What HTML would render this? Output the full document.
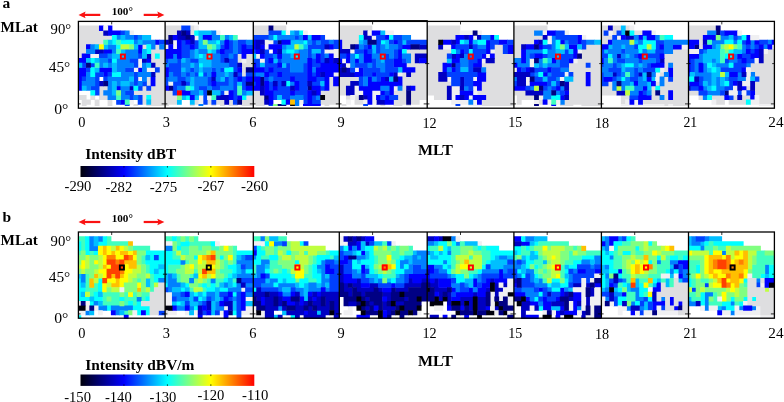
<!DOCTYPE html><html><head><meta charset="utf-8"><title>Figure</title>
<style>html,body{margin:0;padding:0;background:#fff}svg{display:block}text{font-family:"Liberation Serif","DejaVu Serif",serif;fill:#000}.b{font-weight:bold}</style></head><body>
<svg width="784" height="402" viewBox="0 0 784 402">
<defs><linearGradient id="jet" x1="0" x2="1" y1="0" y2="0"><stop offset="0" stop-color="#00000a"/><stop offset="0.25" stop-color="#0000ff"/><stop offset="0.5" stop-color="#00ffff"/><stop offset="0.75" stop-color="#ffff00"/><stop offset="1" stop-color="#ff0000"/></linearGradient><filter id="bl" x="-2%" y="-2%" width="104%" height="104%"><feGaussianBlur stdDeviation="0.65"/></filter></defs>
<rect width="784" height="402" fill="#fff"/>
<clipPath id="ca0"><rect x="78.40" y="21.60" width="86.70" height="84.30"/></clipPath>
<g clip-path="url(#ca0)"><g filter="url(#bl)"><g transform="translate(77.44,21.32) scale(4.305,4.6)">
<path fill="#dedee0" d="M0 .9h5.12v1.22h-5.12zM0 2h6.12v1.12h-6.12zM0 3h8.12v1.12h-8.12zM0 4h6.12v1.12h-6.12zM0 5h2.12v1.12h-2.12zM15 5h1.12v1.12h-1.12zM18 5h1.12v1.12h-1.12zM0 6h2.12v1.12h-2.12zM17 6h4.12v1.12h-4.12zM0 7h1.12v1.12h-1.12zM17 7h1.12v1.12h-1.12zM19 7h2.12v1.12h-2.12zM17 8h4.12v1.12h-4.12zM18 9h3.12v1.12h-3.12zM19 10h2.12v1.12h-2.12zM18 11h3.12v1.12h-3.12zM16 12h1.12v1.12h-1.12zM18 12h3.12v1.12h-3.12zM16 13h1.12v1.12h-1.12zM18 13h3.12v1.12h-3.12zM5 14h2.12v1.12h-2.12zM15 14h1.12v1.12h-1.12zM17 14h4.12v1.12h-4.12zM5 15h1.12v1.12h-1.12zM13 15h8.12v1.12h-8.12zM0 16h2.12v1.12h-2.12zM3 16h1.12v1.12h-1.12zM5 16h2.12v1.12h-2.12zM15 16h1.12v1.12h-1.12zM17 16h4.12v1.12h-4.12zM1 17h2.12v1.12h-2.12zM4 17h1.12v1.12h-1.12zM7 17h1.12v1.12h-1.12zM15 17h1.12v1.12h-1.12zM17 17h4.12v1.12h-4.12zM1 18h1.12v1.12h-1.12zM4 18h1.12v1.12h-1.12zM7 18h1.12v1.12h-1.12zM13 18h1.12v1.12h-1.12zM16 18h5.12v1.12h-5.12z"/>
<path fill="#0000ff" d="M5 .9h1.12v1.22h-1.12zM7 .9h1.12v1.22h-1.12zM7 2h3.12v1.12h-3.12zM18 4h1.12v1.12h-1.12zM2 5h1.12v1.12h-1.12zM14 5h1.12v1.12h-1.12zM6 6h2.12v1.12h-2.12zM14 6h1.12v1.12h-1.12zM1 7h2.12v1.12h-2.12zM0 8h2.12v1.12h-2.12zM16 8h1.12v1.12h-1.12zM0 10h2.12v1.12h-2.12zM5 10h3.12v1.12h-3.12zM14 10h1.12v1.12h-1.12zM0 11h2.12v1.12h-2.12zM6 11h1.12v1.12h-1.12zM0 12h1.12v1.12h-1.12zM17 12h1.12v1.12h-1.12zM0 13h1.12v1.12h-1.12zM17 13h1.12v1.12h-1.12zM0 14h1.12v1.12h-1.12zM9 14h1.12v1.12h-1.12zM10 17h1.12v1.12h-1.12z"/>
<path fill="#f0f0f2" d="M6 .9h1.12v1.22h-1.12zM12 2h1.12v1.12h-1.12zM3 7h2.12v1.12h-2.12zM14 8h1.12v1.12h-1.12zM14 9h1.12v1.12h-1.12zM13 10h1.12v1.12h-1.12zM16 10h2.12v1.12h-2.12zM14 12h1.12v1.12h-1.12zM12 17h1.12v1.12h-1.12z"/>
<path fill="#0000c2" d="M6 2h1.12v1.12h-1.12zM4 6h2.12v1.12h-2.12zM16 7h1.12v1.12h-1.12zM15 8h1.12v1.12h-1.12zM17 9h1.12v1.12h-1.12zM17 11h1.12v1.12h-1.12zM5 13h1.12v1.12h-1.12zM12 14h1.12v1.12h-1.12z"/>
<path fill="#0040ff" d="M10 2h1.12v1.12h-1.12zM13 3h1.12v1.12h-1.12zM19 4h2.12v1.12h-2.12zM5 7h2.12v1.12h-2.12zM14 7h1.12v1.12h-1.12zM7 8h1.12v1.12h-1.12zM12 8h2.12v1.12h-2.12zM1 9h1.12v1.12h-1.12zM3 9h1.12v1.12h-1.12zM13 9h1.12v1.12h-1.12zM2 10h1.12v1.12h-1.12zM11 10h2.12v1.12h-2.12zM18 10h1.12v1.12h-1.12zM4 11h2.12v1.12h-2.12zM7 11h1.12v1.12h-1.12zM13 11h1.12v1.12h-1.12zM1 12h1.12v1.12h-1.12zM4 12h1.12v1.12h-1.12zM6 12h1.12v1.12h-1.12zM13 12h1.12v1.12h-1.12zM4 13h1.12v1.12h-1.12zM13 13h1.12v1.12h-1.12zM15 13h1.12v1.12h-1.12zM3 14h2.12v1.12h-2.12zM14 14h1.12v1.12h-1.12zM16 14h1.12v1.12h-1.12zM4 15h1.12v1.12h-1.12zM11 15h2.12v1.12h-2.12zM12 16h1.12v1.12h-1.12zM14 16h1.12v1.12h-1.12zM9 17h1.12v1.12h-1.12zM14 17h1.12v1.12h-1.12zM11 18h1.12v1.12h-1.12z"/>
<path fill="#0080ff" d="M11 2h1.12v1.12h-1.12zM9 3h1.12v1.12h-1.12zM11 3h2.12v1.12h-2.12zM14 3h1.12v1.12h-1.12zM13 4h1.12v1.12h-1.12zM15 4h3.12v1.12h-3.12zM3 5h1.12v1.12h-1.12zM7 5h2.12v1.12h-2.12zM17 5h1.12v1.12h-1.12zM19 5h2.12v1.12h-2.12zM2 6h2.12v1.12h-2.12zM8 6h1.12v1.12h-1.12zM11 6h3.12v1.12h-3.12zM7 7h1.12v1.12h-1.12zM11 7h3.12v1.12h-3.12zM5 8h2.12v1.12h-2.12zM9 8h3.12v1.12h-3.12zM5 9h1.12v1.12h-1.12zM7 9h1.12v1.12h-1.12zM9 9h4.12v1.12h-4.12zM15 9h1.12v1.12h-1.12zM9 10h2.12v1.12h-2.12zM15 10h1.12v1.12h-1.12zM2 11h1.12v1.12h-1.12zM10 11h3.12v1.12h-3.12zM14 11h3.12v1.12h-3.12zM2 12h2.12v1.12h-2.12zM7 12h5.12v1.12h-5.12zM15 12h1.12v1.12h-1.12zM1 13h3.12v1.12h-3.12zM7 13h1.12v1.12h-1.12zM9 13h1.12v1.12h-1.12zM12 13h1.12v1.12h-1.12zM14 13h1.12v1.12h-1.12zM2 14h1.12v1.12h-1.12zM7 14h1.12v1.12h-1.12zM10 14h2.12v1.12h-2.12zM6 15h2.12v1.12h-2.12zM10 15h1.12v1.12h-1.12zM7 16h2.12v1.12h-2.12zM10 16h2.12v1.12h-2.12zM13 16h1.12v1.12h-1.12z"/>
<path fill="#00ffff" d="M8 3h1.12v1.12h-1.12zM8 4h1.12v1.12h-1.12zM10 4h3.12v1.12h-3.12zM9 5h1.12v1.12h-1.12zM16 5h1.12v1.12h-1.12zM16 6h1.12v1.12h-1.12zM18 7h1.12v1.12h-1.12zM3 8h1.12v1.12h-1.12zM8 8h1.12v1.12h-1.12zM3 10h1.12v1.12h-1.12zM3 11h1.12v1.12h-1.12zM8 11h2.12v1.12h-2.12zM13 14h1.12v1.12h-1.12zM3 15h1.12v1.12h-1.12zM16 16h1.12v1.12h-1.12z"/>
<path fill="#00bfff" d="M10 3h1.12v1.12h-1.12zM15 3h2.12v1.12h-2.12zM7 4h1.12v1.12h-1.12zM14 4h1.12v1.12h-1.12zM4 5h1.12v1.12h-1.12zM6 5h1.12v1.12h-1.12zM13 5h1.12v1.12h-1.12zM10 6h1.12v1.12h-1.12zM15 6h1.12v1.12h-1.12zM8 7h3.12v1.12h-3.12zM15 7h1.12v1.12h-1.12zM2 8h1.12v1.12h-1.12zM4 8h1.12v1.12h-1.12zM0 9h1.12v1.12h-1.12zM6 9h1.12v1.12h-1.12zM8 9h1.12v1.12h-1.12zM16 9h1.12v1.12h-1.12zM4 10h1.12v1.12h-1.12zM8 10h1.12v1.12h-1.12zM12 12h1.12v1.12h-1.12zM8 13h1.12v1.12h-1.12zM10 13h2.12v1.12h-2.12zM1 14h1.12v1.12h-1.12zM8 14h1.12v1.12h-1.12zM8 15h1.12v1.12h-1.12zM16 17h1.12v1.12h-1.12z"/>
<path fill="#40ffbf" d="M6 4h1.12v1.12h-1.12zM9 4h1.12v1.12h-1.12zM9 6h1.12v1.12h-1.12zM4 9h1.12v1.12h-1.12zM9 16h1.12v1.12h-1.12zM11 17h1.12v1.12h-1.12z"/>
<path fill="#ffff00" d="M5 5h1.12v1.12h-1.12z"/>
<path fill="#bfff40" d="M10 5h2.12v1.12h-2.12z"/>
<path fill="#80ff80" d="M12 5h1.12v1.12h-1.12zM9 15h1.12v1.12h-1.12z"/>
<path fill="#000084" d="M2 9h1.12v1.12h-1.12zM6 13h1.12v1.12h-1.12z"/>
</g></g></g>
<clipPath id="ca1"><rect x="165.10" y="21.60" width="88.20" height="84.30"/></clipPath>
<g clip-path="url(#ca1)"><g filter="url(#bl)"><g transform="translate(164.04,21.32) scale(4.305,4.6)">
<path fill="#dedee0" d="M0 .9h4.12v1.22h-4.12zM6 .9h1.12v1.22h-1.12zM0 2h3.12v1.12h-3.12zM6 2h1.12v1.12h-1.12zM0 3h1.12v1.12h-1.12zM17 7h1.12v1.12h-1.12zM19 7h2.12v1.12h-2.12zM17 8h1.12v1.12h-1.12zM19 8h2.12v1.12h-2.12zM18 9h3.12v1.12h-3.12zM18 10h1.12v1.12h-1.12zM18 11h1.12v1.12h-1.12zM0 15h2.12v1.12h-2.12zM0 16h3.12v1.12h-3.12zM19 16h2.12v1.12h-2.12zM0 17h3.12v1.12h-3.12zM7 17h1.12v1.12h-1.12zM10 17h1.12v1.12h-1.12zM12 17h2.12v1.12h-2.12zM15 17h1.12v1.12h-1.12zM18 17h3.12v1.12h-3.12zM0 18h1.12v1.12h-1.12zM6 18h1.12v1.12h-1.12zM11 18h1.12v1.12h-1.12zM13 18h1.12v1.12h-1.12zM15 18h2.12v1.12h-2.12zM18 18h3.12v1.12h-3.12z"/>
<path fill="#0040ff" d="M4 .9h2.12v1.22h-2.12zM4 4h1.12v1.12h-1.12zM7 4h1.12v1.12h-1.12zM15 4h1.12v1.12h-1.12zM17 4h2.12v1.12h-2.12zM4 5h2.12v1.12h-2.12zM7 5h1.12v1.12h-1.12zM13 5h1.12v1.12h-1.12zM15 5h1.12v1.12h-1.12zM17 5h1.12v1.12h-1.12zM19 5h2.12v1.12h-2.12zM4 6h2.12v1.12h-2.12zM12 6h1.12v1.12h-1.12zM14 6h2.12v1.12h-2.12zM17 6h1.12v1.12h-1.12zM4 7h2.12v1.12h-2.12zM13 7h2.12v1.12h-2.12zM16 7h1.12v1.12h-1.12zM0 8h1.12v1.12h-1.12zM3 8h1.12v1.12h-1.12zM6 8h2.12v1.12h-2.12zM13 8h1.12v1.12h-1.12zM15 8h2.12v1.12h-2.12zM1 9h3.12v1.12h-3.12zM15 9h2.12v1.12h-2.12zM1 10h3.12v1.12h-3.12zM6 10h1.12v1.12h-1.12zM11 10h1.12v1.12h-1.12zM13 10h1.12v1.12h-1.12zM16 10h1.12v1.12h-1.12zM2 11h2.12v1.12h-2.12zM5 11h1.12v1.12h-1.12zM7 11h1.12v1.12h-1.12zM9 11h1.12v1.12h-1.12zM17 11h1.12v1.12h-1.12zM19 11h2.12v1.12h-2.12zM0 12h1.12v1.12h-1.12zM3 12h2.12v1.12h-2.12zM10 12h1.12v1.12h-1.12zM14 12h1.12v1.12h-1.12zM16 12h1.12v1.12h-1.12zM18 12h1.12v1.12h-1.12zM0 13h1.12v1.12h-1.12zM2 13h2.12v1.12h-2.12zM5 13h1.12v1.12h-1.12zM10 13h1.12v1.12h-1.12zM12 13h3.12v1.12h-3.12zM16 13h1.12v1.12h-1.12zM18 13h1.12v1.12h-1.12zM2 14h1.12v1.12h-1.12zM8 14h2.12v1.12h-2.12zM11 14h2.12v1.12h-2.12zM16 14h1.12v1.12h-1.12zM18 14h1.12v1.12h-1.12zM2 15h1.12v1.12h-1.12zM9 15h1.12v1.12h-1.12zM13 15h1.12v1.12h-1.12zM16 15h1.12v1.12h-1.12zM9 16h1.12v1.12h-1.12zM16 16h1.12v1.12h-1.12zM9 17h1.12v1.12h-1.12zM11 17h1.12v1.12h-1.12zM16 17h1.12v1.12h-1.12z"/>
<path fill="#f0f0f2" d="M7 .9h1.12v1.22h-1.12zM12 2h1.12v1.12h-1.12zM7 3h1.12v1.12h-1.12zM2 4h1.12v1.12h-1.12zM0 5h1.12v1.12h-1.12zM2 5h1.12v1.12h-1.12zM18 8h1.12v1.12h-1.12zM1 13h1.12v1.12h-1.12zM14 15h1.12v1.12h-1.12zM8 16h1.12v1.12h-1.12zM10 16h1.12v1.12h-1.12zM8 17h1.12v1.12h-1.12z"/>
<path fill="#0000c2" d="M3 2h1.12v1.12h-1.12zM5 2h1.12v1.12h-1.12zM3 3h2.12v1.12h-2.12zM6 3h1.12v1.12h-1.12zM0 4h1.12v1.12h-1.12zM6 4h1.12v1.12h-1.12zM14 8h1.12v1.12h-1.12zM17 9h1.12v1.12h-1.12zM16 11h1.12v1.12h-1.12zM11 12h1.12v1.12h-1.12zM4 13h1.12v1.12h-1.12zM12 16h3.12v1.12h-3.12zM14 17h1.12v1.12h-1.12z"/>
<path fill="#000084" d="M4 2h1.12v1.12h-1.12zM1 3h1.12v1.12h-1.12zM5 3h1.12v1.12h-1.12zM1 4h1.12v1.12h-1.12zM19 10h2.12v1.12h-2.12zM19 13h2.12v1.12h-2.12zM1 14h1.12v1.12h-1.12zM17 17h1.12v1.12h-1.12z"/>
<path fill="#00ffff" d="M7 2h1.12v1.12h-1.12zM12 4h1.12v1.12h-1.12zM10 6h1.12v1.12h-1.12zM8 7h1.12v1.12h-1.12zM10 7h1.12v1.12h-1.12zM8 9h1.12v1.12h-1.12zM14 10h2.12v1.12h-2.12zM8 11h1.12v1.12h-1.12zM6 14h1.12v1.12h-1.12zM5 16h1.12v1.12h-1.12zM18 16h1.12v1.12h-1.12z"/>
<path fill="#00bfff" d="M8 2h3.12v1.12h-3.12zM8 3h1.12v1.12h-1.12zM15 3h1.12v1.12h-1.12zM8 4h1.12v1.12h-1.12zM10 4h2.12v1.12h-2.12zM8 5h2.12v1.12h-2.12zM12 5h1.12v1.12h-1.12zM7 6h1.12v1.12h-1.12zM11 6h1.12v1.12h-1.12zM7 7h1.12v1.12h-1.12zM9 7h1.12v1.12h-1.12zM4 8h1.12v1.12h-1.12zM8 8h3.12v1.12h-3.12zM6 9h1.12v1.12h-1.12zM9 9h2.12v1.12h-2.12zM4 10h1.12v1.12h-1.12zM8 10h1.12v1.12h-1.12zM14 11h1.12v1.12h-1.12zM6 12h1.12v1.12h-1.12zM13 12h1.12v1.12h-1.12zM6 13h1.12v1.12h-1.12zM17 13h1.12v1.12h-1.12zM8 15h1.12v1.12h-1.12zM11 15h2.12v1.12h-2.12zM19 15h2.12v1.12h-2.12zM4 16h1.12v1.12h-1.12zM7 16h1.12v1.12h-1.12zM3 17h1.12v1.12h-1.12zM6 17h1.12v1.12h-1.12z"/>
<path fill="#0080ff" d="M11 2h1.12v1.12h-1.12zM11 3h2.12v1.12h-2.12zM14 3h1.12v1.12h-1.12zM13 4h1.12v1.12h-1.12zM16 4h1.12v1.12h-1.12zM19 4h2.12v1.12h-2.12zM16 5h1.12v1.12h-1.12zM6 6h1.12v1.12h-1.12zM8 6h2.12v1.12h-2.12zM16 6h1.12v1.12h-1.12zM2 7h1.12v1.12h-1.12zM6 7h1.12v1.12h-1.12zM11 7h2.12v1.12h-2.12zM15 7h1.12v1.12h-1.12zM1 8h2.12v1.12h-2.12zM5 8h1.12v1.12h-1.12zM11 8h2.12v1.12h-2.12zM0 9h1.12v1.12h-1.12zM4 9h2.12v1.12h-2.12zM7 9h1.12v1.12h-1.12zM11 9h4.12v1.12h-4.12zM5 10h1.12v1.12h-1.12zM7 10h1.12v1.12h-1.12zM9 10h2.12v1.12h-2.12zM12 10h1.12v1.12h-1.12zM1 11h1.12v1.12h-1.12zM4 11h1.12v1.12h-1.12zM6 11h1.12v1.12h-1.12zM10 11h1.12v1.12h-1.12zM12 11h2.12v1.12h-2.12zM15 11h1.12v1.12h-1.12zM1 12h2.12v1.12h-2.12zM5 12h1.12v1.12h-1.12zM7 12h3.12v1.12h-3.12zM12 12h1.12v1.12h-1.12zM15 12h1.12v1.12h-1.12zM7 13h3.12v1.12h-3.12zM15 13h1.12v1.12h-1.12zM3 14h2.12v1.12h-2.12zM7 14h1.12v1.12h-1.12zM10 14h1.12v1.12h-1.12zM13 14h3.12v1.12h-3.12zM6 15h2.12v1.12h-2.12zM18 15h1.12v1.12h-1.12zM8 18h1.12v1.12h-1.12z"/>
<path fill="#0000ff" d="M2 3h1.12v1.12h-1.12zM9 3h2.12v1.12h-2.12zM3 4h1.12v1.12h-1.12zM5 4h1.12v1.12h-1.12zM14 4h1.12v1.12h-1.12zM1 5h1.12v1.12h-1.12zM3 5h1.12v1.12h-1.12zM6 5h1.12v1.12h-1.12zM14 5h1.12v1.12h-1.12zM18 5h1.12v1.12h-1.12zM0 6h4.12v1.12h-4.12zM13 6h1.12v1.12h-1.12zM18 6h3.12v1.12h-3.12zM0 7h2.12v1.12h-2.12zM3 7h1.12v1.12h-1.12zM18 7h1.12v1.12h-1.12zM0 10h1.12v1.12h-1.12zM17 10h1.12v1.12h-1.12zM0 11h1.12v1.12h-1.12zM11 11h1.12v1.12h-1.12zM17 12h1.12v1.12h-1.12zM19 12h2.12v1.12h-2.12zM11 13h1.12v1.12h-1.12zM0 14h1.12v1.12h-1.12zM19 14h2.12v1.12h-2.12zM4 15h2.12v1.12h-2.12zM15 15h1.12v1.12h-1.12zM6 16h1.12v1.12h-1.12zM15 16h1.12v1.12h-1.12zM17 16h1.12v1.12h-1.12z"/>
<path fill="#40ffbf" d="M13 3h1.12v1.12h-1.12zM16 3h1.12v1.12h-1.12zM11 5h1.12v1.12h-1.12zM5 14h1.12v1.12h-1.12zM17 14h1.12v1.12h-1.12zM17 15h1.12v1.12h-1.12zM11 16h1.12v1.12h-1.12z"/>
<path fill="#80ff80" d="M9 4h1.12v1.12h-1.12zM10 5h1.12v1.12h-1.12zM3 16h1.12v1.12h-1.12z"/>
<path fill="#ff0000" d="M3 15h1.12v1.12h-1.12z"/>
<path fill="#00000a" d="M10 15h1.12v1.12h-1.12z"/>
</g></g></g>
<clipPath id="ca2"><rect x="253.30" y="21.60" width="86.00" height="84.30"/></clipPath>
<g clip-path="url(#ca2)"><g filter="url(#bl)"><g transform="translate(251.34,21.32) scale(4.305,4.6)">
<path fill="#dedee0" d="M0 .9h4.12v1.22h-4.12zM5 .9h3.12v1.22h-3.12zM0 2h4.12v1.12h-4.12zM18 12h1.12v1.12h-1.12zM18 13h1.12v1.12h-1.12zM18 14h3.12v1.12h-3.12zM0 15h2.12v1.12h-2.12zM16 15h5.12v1.12h-5.12zM0 16h3.12v1.12h-3.12zM17 16h4.12v1.12h-4.12zM0 17h3.12v1.12h-3.12zM16 17h5.12v1.12h-5.12zM1 18h2.12v1.12h-2.12zM17 18h1.12v1.12h-1.12z"/>
<path fill="#000084" d="M4 .9h1.12v1.22h-1.12zM6 4h1.12v1.12h-1.12zM2 12h1.12v1.12h-1.12zM2 13h1.12v1.12h-1.12zM13 14h1.12v1.12h-1.12zM3 16h1.12v1.12h-1.12zM6 18h2.12v1.12h-2.12z"/>
<path fill="#0040ff" d="M4 2h3.12v1.12h-3.12zM0 3h4.12v1.12h-4.12zM10 3h1.12v1.12h-1.12zM16 3h1.12v1.12h-1.12zM5 4h1.12v1.12h-1.12zM14 4h1.12v1.12h-1.12zM16 4h2.12v1.12h-2.12zM19 4h2.12v1.12h-2.12zM13 5h4.12v1.12h-4.12zM19 5h2.12v1.12h-2.12zM0 6h1.12v1.12h-1.12zM3 6h1.12v1.12h-1.12zM13 6h1.12v1.12h-1.12zM16 6h1.12v1.12h-1.12zM3 7h2.12v1.12h-2.12zM13 7h1.12v1.12h-1.12zM16 7h1.12v1.12h-1.12zM0 8h2.12v1.12h-2.12zM3 8h1.12v1.12h-1.12zM6 8h1.12v1.12h-1.12zM14 8h1.12v1.12h-1.12zM16 8h1.12v1.12h-1.12zM1 9h1.12v1.12h-1.12zM3 9h3.12v1.12h-3.12zM8 9h1.12v1.12h-1.12zM12 9h1.12v1.12h-1.12zM14 9h2.12v1.12h-2.12zM3 10h1.12v1.12h-1.12zM5 10h4.12v1.12h-4.12zM12 10h1.12v1.12h-1.12zM0 11h1.12v1.12h-1.12zM4 11h2.12v1.12h-2.12zM7 11h6.12v1.12h-6.12zM14 11h1.12v1.12h-1.12zM3 12h1.12v1.12h-1.12zM5 12h4.12v1.12h-4.12zM10 12h3.12v1.12h-3.12zM15 12h2.12v1.12h-2.12zM0 13h1.12v1.12h-1.12zM4 13h1.12v1.12h-1.12zM6 13h1.12v1.12h-1.12zM11 13h2.12v1.12h-2.12zM14 13h2.12v1.12h-2.12zM4 14h1.12v1.12h-1.12zM6 14h3.12v1.12h-3.12zM11 14h2.12v1.12h-2.12zM16 14h1.12v1.12h-1.12zM5 15h4.12v1.12h-4.12zM10 15h3.12v1.12h-3.12zM5 16h1.12v1.12h-1.12zM7 16h2.12v1.12h-2.12zM12 16h1.12v1.12h-1.12zM14 16h1.12v1.12h-1.12zM12 17h1.12v1.12h-1.12zM14 17h2.12v1.12h-2.12zM4 18h1.12v1.12h-1.12z"/>
<path fill="#00ffff" d="M7 2h1.12v1.12h-1.12zM11 2h1.12v1.12h-1.12zM5 3h1.12v1.12h-1.12zM12 4h1.12v1.12h-1.12zM8 6h2.12v1.12h-2.12zM10 7h1.12v1.12h-1.12zM8 13h1.12v1.12h-1.12zM7 17h1.12v1.12h-1.12z"/>
<path fill="#f0f0f2" d="M8 2h1.12v1.12h-1.12zM12 2h1.12v1.12h-1.12zM3 4h2.12v1.12h-2.12zM3 5h1.12v1.12h-1.12zM17 6h4.12v1.12h-4.12zM1 7h1.12v1.12h-1.12zM19 7h2.12v1.12h-2.12zM2 8h1.12v1.12h-1.12zM19 11h2.12v1.12h-2.12zM11 17h1.12v1.12h-1.12z"/>
<path fill="#00bfff" d="M9 2h1.12v1.12h-1.12zM13 3h1.12v1.12h-1.12zM9 4h3.12v1.12h-3.12zM8 5h2.12v1.12h-2.12zM12 5h1.12v1.12h-1.12zM7 6h1.12v1.12h-1.12zM10 6h1.12v1.12h-1.12zM14 6h2.12v1.12h-2.12zM0 7h1.12v1.12h-1.12zM9 7h1.12v1.12h-1.12zM5 8h1.12v1.12h-1.12zM2 9h1.12v1.12h-1.12zM7 9h1.12v1.12h-1.12zM16 13h1.12v1.12h-1.12zM6 16h1.12v1.12h-1.12z"/>
<path fill="#0080ff" d="M10 2h1.12v1.12h-1.12zM4 3h1.12v1.12h-1.12zM6 3h4.12v1.12h-4.12zM11 3h1.12v1.12h-1.12zM13 4h1.12v1.12h-1.12zM15 4h1.12v1.12h-1.12zM18 4h1.12v1.12h-1.12zM7 5h1.12v1.12h-1.12zM11 6h2.12v1.12h-2.12zM5 7h1.12v1.12h-1.12zM7 7h2.12v1.12h-2.12zM11 7h2.12v1.12h-2.12zM14 7h1.12v1.12h-1.12zM17 7h1.12v1.12h-1.12zM7 8h6.12v1.12h-6.12zM9 9h3.12v1.12h-3.12zM9 10h3.12v1.12h-3.12zM14 10h1.12v1.12h-1.12zM1 11h2.12v1.12h-2.12zM4 12h1.12v1.12h-1.12zM9 13h1.12v1.12h-1.12zM9 16h3.12v1.12h-3.12zM15 16h1.12v1.12h-1.12zM10 17h1.12v1.12h-1.12zM10 18h1.12v1.12h-1.12z"/>
<path fill="#0000ff" d="M12 3h1.12v1.12h-1.12zM14 3h2.12v1.12h-2.12zM0 4h1.12v1.12h-1.12zM7 4h2.12v1.12h-2.12zM0 5h1.12v1.12h-1.12zM2 5h1.12v1.12h-1.12zM4 5h3.12v1.12h-3.12zM18 5h1.12v1.12h-1.12zM1 6h1.12v1.12h-1.12zM5 6h1.12v1.12h-1.12zM2 7h1.12v1.12h-1.12zM6 7h1.12v1.12h-1.12zM15 7h1.12v1.12h-1.12zM18 7h1.12v1.12h-1.12zM4 8h1.12v1.12h-1.12zM13 8h1.12v1.12h-1.12zM15 8h1.12v1.12h-1.12zM18 8h1.12v1.12h-1.12zM0 9h1.12v1.12h-1.12zM6 9h1.12v1.12h-1.12zM13 9h1.12v1.12h-1.12zM16 9h5.12v1.12h-5.12zM0 10h3.12v1.12h-3.12zM4 10h1.12v1.12h-1.12zM13 10h1.12v1.12h-1.12zM15 10h6.12v1.12h-6.12zM3 11h1.12v1.12h-1.12zM6 11h1.12v1.12h-1.12zM13 11h1.12v1.12h-1.12zM15 11h1.12v1.12h-1.12zM17 11h2.12v1.12h-2.12zM0 12h2.12v1.12h-2.12zM9 12h1.12v1.12h-1.12zM13 12h2.12v1.12h-2.12zM17 12h1.12v1.12h-1.12zM19 12h2.12v1.12h-2.12zM1 13h1.12v1.12h-1.12zM3 13h1.12v1.12h-1.12zM10 13h1.12v1.12h-1.12zM17 13h1.12v1.12h-1.12zM19 13h2.12v1.12h-2.12zM0 14h2.12v1.12h-2.12zM3 14h1.12v1.12h-1.12zM5 14h1.12v1.12h-1.12zM10 14h1.12v1.12h-1.12zM14 14h2.12v1.12h-2.12zM17 14h1.12v1.12h-1.12zM3 15h2.12v1.12h-2.12zM9 15h1.12v1.12h-1.12zM13 15h1.12v1.12h-1.12zM15 15h1.12v1.12h-1.12zM4 16h1.12v1.12h-1.12zM13 16h1.12v1.12h-1.12zM4 17h1.12v1.12h-1.12zM8 17h1.12v1.12h-1.12zM13 17h1.12v1.12h-1.12zM12 18h4.12v1.12h-4.12z"/>
<path fill="#0000c2" d="M1 4h2.12v1.12h-2.12zM1 5h1.12v1.12h-1.12zM17 5h1.12v1.12h-1.12zM2 6h1.12v1.12h-1.12zM6 6h1.12v1.12h-1.12zM17 8h1.12v1.12h-1.12zM19 8h2.12v1.12h-2.12zM16 11h1.12v1.12h-1.12zM5 13h1.12v1.12h-1.12zM7 13h1.12v1.12h-1.12zM13 13h1.12v1.12h-1.12zM2 14h1.12v1.12h-1.12zM9 14h1.12v1.12h-1.12zM2 15h1.12v1.12h-1.12zM14 15h1.12v1.12h-1.12zM3 17h1.12v1.12h-1.12z"/>
<path fill="#bfff40" d="M10 5h1.12v1.12h-1.12z"/>
<path fill="#40ffbf" d="M11 5h1.12v1.12h-1.12z"/>
<path fill="#00000a" d="M16 16h1.12v1.12h-1.12zM9 18h1.12v1.12h-1.12z"/>
<path fill="#ffbf00" d="M9 17h1.12v1.12h-1.12z"/>
<path fill="#80ff80" d="M5 18h1.12v1.12h-1.12z"/>
</g></g></g>
<clipPath id="ca3"><rect x="339.30" y="21.60" width="87.90" height="84.30"/></clipPath>
<g clip-path="url(#ca3)"><g filter="url(#bl)"><g transform="translate(337.34,21.32) scale(4.305,4.6)">
<path fill="#dedee0" d="M0 .9h8.12v1.22h-8.12zM0 2h6.12v1.12h-6.12zM0 3h5.12v1.12h-5.12zM1 4h4.12v1.12h-4.12zM1 5h2.12v1.12h-2.12zM16 6h5.12v1.12h-5.12zM17 7h1.12v1.12h-1.12zM17 8h1.12v1.12h-1.12zM16 9h5.12v1.12h-5.12zM18 10h3.12v1.12h-3.12zM15 11h1.12v1.12h-1.12zM17 11h4.12v1.12h-4.12zM0 12h5.12v1.12h-5.12zM15 12h6.12v1.12h-6.12zM0 13h3.12v1.12h-3.12zM15 13h6.12v1.12h-6.12zM0 14h2.12v1.12h-2.12zM15 14h1.12v1.12h-1.12zM18 14h3.12v1.12h-3.12zM0 15h2.12v1.12h-2.12zM13 15h3.12v1.12h-3.12zM17 15h4.12v1.12h-4.12zM2 16h1.12v1.12h-1.12zM4 16h1.12v1.12h-1.12zM14 16h2.12v1.12h-2.12zM17 16h4.12v1.12h-4.12zM4 17h2.12v1.12h-2.12zM13 17h3.12v1.12h-3.12zM17 17h2.12v1.12h-2.12zM1 18h1.12v1.12h-1.12zM10 18h1.12v1.12h-1.12zM13 18h2.12v1.12h-2.12zM16 18h1.12v1.12h-1.12z"/>
<path fill="#0000c2" d="M6 2h1.12v1.12h-1.12zM6 3h2.12v1.12h-2.12zM4 5h1.12v1.12h-1.12zM19 5h2.12v1.12h-2.12zM0 6h3.12v1.12h-3.12zM18 7h3.12v1.12h-3.12zM18 8h1.12v1.12h-1.12zM1 9h1.12v1.12h-1.12zM0 10h1.12v1.12h-1.12zM2 10h1.12v1.12h-1.12zM0 11h4.12v1.12h-4.12zM13 11h1.12v1.12h-1.12zM16 11h1.12v1.12h-1.12zM11 12h1.12v1.12h-1.12zM3 13h2.12v1.12h-2.12zM2 14h2.12v1.12h-2.12zM16 14h1.12v1.12h-1.12zM2 15h2.12v1.12h-2.12zM6 16h1.12v1.12h-1.12zM9 17h2.12v1.12h-2.12z"/>
<path fill="#f0f0f2" d="M7 2h1.12v1.12h-1.12zM11 2h2.12v1.12h-2.12zM8 3h1.12v1.12h-1.12zM3 6h1.12v1.12h-1.12zM1 8h1.12v1.12h-1.12zM2 9h1.12v1.12h-1.12zM4 10h1.12v1.12h-1.12zM14 11h1.12v1.12h-1.12zM4 14h1.12v1.12h-1.12zM13 14h1.12v1.12h-1.12zM4 15h2.12v1.12h-2.12zM8 15h2.12v1.12h-2.12zM3 16h1.12v1.12h-1.12zM8 16h1.12v1.12h-1.12zM2 17h1.12v1.12h-1.12zM6 17h1.12v1.12h-1.12zM8 17h1.12v1.12h-1.12z"/>
<path fill="#0000ff" d="M8 2h2.12v1.12h-2.12zM11 3h1.12v1.12h-1.12zM0 4h1.12v1.12h-1.12zM13 4h1.12v1.12h-1.12zM0 5h1.12v1.12h-1.12zM7 5h1.12v1.12h-1.12zM15 5h2.12v1.12h-2.12zM6 6h1.12v1.12h-1.12zM14 6h1.12v1.12h-1.12zM2 7h1.12v1.12h-1.12zM6 7h2.12v1.12h-2.12zM14 7h1.12v1.12h-1.12zM0 8h1.12v1.12h-1.12zM2 8h1.12v1.12h-1.12zM4 8h1.12v1.12h-1.12zM6 8h2.12v1.12h-2.12zM13 8h2.12v1.12h-2.12zM19 8h2.12v1.12h-2.12zM0 9h1.12v1.12h-1.12zM13 9h3.12v1.12h-3.12zM5 10h1.12v1.12h-1.12zM15 10h3.12v1.12h-3.12zM4 11h2.12v1.12h-2.12zM8 11h1.12v1.12h-1.12zM12 11h1.12v1.12h-1.12zM7 12h1.12v1.12h-1.12zM10 12h1.12v1.12h-1.12zM14 12h1.12v1.12h-1.12zM7 13h8.12v1.12h-8.12zM5 14h5.12v1.12h-5.12zM12 14h1.12v1.12h-1.12zM17 14h1.12v1.12h-1.12zM6 15h2.12v1.12h-2.12zM10 15h1.12v1.12h-1.12zM12 15h1.12v1.12h-1.12zM7 16h1.12v1.12h-1.12zM9 16h1.12v1.12h-1.12zM11 16h1.12v1.12h-1.12zM7 17h1.12v1.12h-1.12zM11 17h2.12v1.12h-2.12z"/>
<path fill="#00bfff" d="M10 2h1.12v1.12h-1.12zM5 4h1.12v1.12h-1.12zM11 4h1.12v1.12h-1.12zM15 4h1.12v1.12h-1.12zM8 5h1.12v1.12h-1.12zM11 5h1.12v1.12h-1.12zM8 6h1.12v1.12h-1.12zM10 7h1.12v1.12h-1.12zM10 8h1.12v1.12h-1.12zM14 10h1.12v1.12h-1.12zM12 12h1.12v1.12h-1.12z"/>
<path fill="#00ffff" d="M5 3h1.12v1.12h-1.12zM12 3h1.12v1.12h-1.12zM10 4h1.12v1.12h-1.12zM15 6h1.12v1.12h-1.12zM4 7h1.12v1.12h-1.12z"/>
<path fill="#0040ff" d="M9 3h2.12v1.12h-2.12zM13 3h2.12v1.12h-2.12zM9 4h1.12v1.12h-1.12zM12 4h1.12v1.12h-1.12zM14 4h1.12v1.12h-1.12zM16 4h5.12v1.12h-5.12zM6 5h1.12v1.12h-1.12zM9 5h1.12v1.12h-1.12zM14 5h1.12v1.12h-1.12zM4 6h2.12v1.12h-2.12zM7 6h1.12v1.12h-1.12zM9 6h1.12v1.12h-1.12zM13 6h1.12v1.12h-1.12zM0 7h2.12v1.12h-2.12zM11 7h1.12v1.12h-1.12zM13 7h1.12v1.12h-1.12zM8 8h1.12v1.12h-1.12zM11 8h2.12v1.12h-2.12zM15 8h1.12v1.12h-1.12zM4 9h3.12v1.12h-3.12zM8 9h1.12v1.12h-1.12zM11 9h2.12v1.12h-2.12zM3 10h1.12v1.12h-1.12zM6 10h4.12v1.12h-4.12zM11 10h3.12v1.12h-3.12zM6 11h2.12v1.12h-2.12zM9 11h3.12v1.12h-3.12zM5 12h1.12v1.12h-1.12zM9 12h1.12v1.12h-1.12zM5 13h1.12v1.12h-1.12zM11 15h1.12v1.12h-1.12zM10 16h1.12v1.12h-1.12zM12 16h2.12v1.12h-2.12zM6 18h1.12v1.12h-1.12z"/>
<path fill="#0080ff" d="M15 3h2.12v1.12h-2.12zM6 4h1.12v1.12h-1.12zM5 5h1.12v1.12h-1.12zM10 5h1.12v1.12h-1.12zM12 5h2.12v1.12h-2.12zM10 6h3.12v1.12h-3.12zM3 7h1.12v1.12h-1.12zM5 7h1.12v1.12h-1.12zM8 7h2.12v1.12h-2.12zM12 7h1.12v1.12h-1.12zM15 7h2.12v1.12h-2.12zM3 8h1.12v1.12h-1.12zM5 8h1.12v1.12h-1.12zM9 8h1.12v1.12h-1.12zM16 8h1.12v1.12h-1.12zM3 9h1.12v1.12h-1.12zM7 9h1.12v1.12h-1.12zM9 9h2.12v1.12h-2.12zM10 10h1.12v1.12h-1.12zM6 12h1.12v1.12h-1.12zM8 12h1.12v1.12h-1.12zM6 13h1.12v1.12h-1.12zM10 14h2.12v1.12h-2.12zM14 14h1.12v1.12h-1.12z"/>
<path fill="#000084" d="M7 4h2.12v1.12h-2.12zM3 5h1.12v1.12h-1.12zM17 5h2.12v1.12h-2.12zM1 10h1.12v1.12h-1.12zM13 12h1.12v1.12h-1.12zM16 15h1.12v1.12h-1.12zM5 16h1.12v1.12h-1.12zM16 16h1.12v1.12h-1.12zM16 17h1.12v1.12h-1.12z"/>
</g></g></g>
<clipPath id="ca4"><rect x="427.20" y="21.60" width="86.70" height="84.30"/></clipPath>
<g clip-path="url(#ca4)"><g filter="url(#bl)"><g transform="translate(425.34,21.32) scale(4.305,4.6)">
<path fill="#dedee0" d="M0 .9h8.12v1.22h-8.12zM0 2h8.12v1.12h-8.12zM0 3h7.12v1.12h-7.12zM0 4h3.12v1.12h-3.12zM0 5h3.12v1.12h-3.12zM16 5h2.12v1.12h-2.12zM0 6h6.12v1.12h-6.12zM16 6h2.12v1.12h-2.12zM0 7h5.12v1.12h-5.12zM16 7h5.12v1.12h-5.12zM0 8h5.12v1.12h-5.12zM16 8h5.12v1.12h-5.12zM0 9h4.12v1.12h-4.12zM13 9h8.12v1.12h-8.12zM0 10h4.12v1.12h-4.12zM14 10h7.12v1.12h-7.12zM0 11h3.12v1.12h-3.12zM14 11h7.12v1.12h-7.12zM0 12h3.12v1.12h-3.12zM14 12h7.12v1.12h-7.12zM0 13h6.12v1.12h-6.12zM13 13h8.12v1.12h-8.12zM0 14h5.12v1.12h-5.12zM13 14h8.12v1.12h-8.12zM0 15h5.12v1.12h-5.12zM12 15h9.12v1.12h-9.12zM2 16h3.12v1.12h-3.12zM14 16h7.12v1.12h-7.12zM13 17h8.12v1.12h-8.12zM13 18h8.12v1.12h-8.12z"/>
<path fill="#f0f0f2" d="M8 2h3.12v1.12h-3.12zM12 2h1.12v1.12h-1.12zM11 3h1.12v1.12h-1.12zM4 5h2.12v1.12h-2.12zM15 6h1.12v1.12h-1.12zM14 7h1.12v1.12h-1.12zM13 8h1.12v1.12h-1.12zM5 12h1.12v1.12h-1.12zM11 12h1.12v1.12h-1.12zM6 14h2.12v1.12h-2.12zM11 14h1.12v1.12h-1.12zM6 15h2.12v1.12h-2.12zM11 15h1.12v1.12h-1.12zM6 16h1.12v1.12h-1.12zM10 16h1.12v1.12h-1.12zM6 17h4.12v1.12h-4.12zM11 17h1.12v1.12h-1.12zM10 18h3.12v1.12h-3.12z"/>
<path fill="#000084" d="M11 2h1.12v1.12h-1.12zM6 9h1.12v1.12h-1.12z"/>
<path fill="#0000ff" d="M7 3h2.12v1.12h-2.12zM10 3h1.12v1.12h-1.12zM15 3h1.12v1.12h-1.12zM4 4h2.12v1.12h-2.12zM7 4h1.12v1.12h-1.12zM10 4h1.12v1.12h-1.12zM14 4h1.12v1.12h-1.12zM17 4h2.12v1.12h-2.12zM6 5h1.12v1.12h-1.12zM14 5h1.12v1.12h-1.12zM19 5h2.12v1.12h-2.12zM8 6h1.12v1.12h-1.12zM14 6h1.12v1.12h-1.12zM19 6h2.12v1.12h-2.12zM7 7h1.12v1.12h-1.12zM13 7h1.12v1.12h-1.12zM15 7h1.12v1.12h-1.12zM6 8h2.12v1.12h-2.12zM12 8h1.12v1.12h-1.12zM4 9h2.12v1.12h-2.12zM11 9h2.12v1.12h-2.12zM4 10h1.12v1.12h-1.12zM6 10h1.12v1.12h-1.12zM12 11h2.12v1.12h-2.12zM12 12h2.12v1.12h-2.12zM11 13h2.12v1.12h-2.12zM12 14h1.12v1.12h-1.12zM8 15h3.12v1.12h-3.12zM7 16h1.12v1.12h-1.12zM9 16h1.12v1.12h-1.12zM11 16h3.12v1.12h-3.12zM12 17h1.12v1.12h-1.12z"/>
<path fill="#0000c2" d="M9 3h1.12v1.12h-1.12zM12 3h1.12v1.12h-1.12zM6 4h1.12v1.12h-1.12zM3 5h1.12v1.12h-1.12zM10 5h1.12v1.12h-1.12zM6 7h1.12v1.12h-1.12zM8 7h1.12v1.12h-1.12zM14 8h2.12v1.12h-2.12zM11 10h2.12v1.12h-2.12zM3 11h2.12v1.12h-2.12zM3 12h2.12v1.12h-2.12zM8 12h1.12v1.12h-1.12zM8 13h1.12v1.12h-1.12zM5 14h1.12v1.12h-1.12zM8 14h1.12v1.12h-1.12zM5 15h1.12v1.12h-1.12zM5 16h1.12v1.12h-1.12zM8 16h1.12v1.12h-1.12z"/>
<path fill="#0080ff" d="M13 3h2.12v1.12h-2.12zM12 5h2.12v1.12h-2.12zM7 6h1.12v1.12h-1.12zM9 7h2.12v1.12h-2.12zM8 8h2.12v1.12h-2.12zM8 9h2.12v1.12h-2.12zM5 10h1.12v1.12h-1.12zM13 10h1.12v1.12h-1.12zM9 14h1.12v1.12h-1.12zM10 17h1.12v1.12h-1.12z"/>
<path fill="#00ffff" d="M16 3h1.12v1.12h-1.12zM8 4h1.12v1.12h-1.12zM12 4h2.12v1.12h-2.12zM6 6h1.12v1.12h-1.12zM10 6h1.12v1.12h-1.12z"/>
<path fill="#00000a" d="M3 4h1.12v1.12h-1.12z"/>
<path fill="#00bfff" d="M9 4h1.12v1.12h-1.12zM11 4h1.12v1.12h-1.12zM5 8h1.12v1.12h-1.12zM8 10h2.12v1.12h-2.12z"/>
<path fill="#0040ff" d="M15 4h2.12v1.12h-2.12zM19 4h2.12v1.12h-2.12zM7 5h3.12v1.12h-3.12zM11 5h1.12v1.12h-1.12zM15 5h1.12v1.12h-1.12zM18 5h1.12v1.12h-1.12zM9 6h1.12v1.12h-1.12zM11 6h3.12v1.12h-3.12zM18 6h1.12v1.12h-1.12zM5 7h1.12v1.12h-1.12zM11 7h2.12v1.12h-2.12zM10 8h2.12v1.12h-2.12zM7 9h1.12v1.12h-1.12zM10 9h1.12v1.12h-1.12zM7 10h1.12v1.12h-1.12zM10 10h1.12v1.12h-1.12zM5 11h7.12v1.12h-7.12zM6 12h2.12v1.12h-2.12zM9 12h2.12v1.12h-2.12zM6 13h2.12v1.12h-2.12zM9 13h2.12v1.12h-2.12zM10 14h1.12v1.12h-1.12zM7 18h1.12v1.12h-1.12z"/>
</g></g></g>
<clipPath id="ca5"><rect x="513.90" y="21.60" width="87.50" height="84.30"/></clipPath>
<g clip-path="url(#ca5)"><g filter="url(#bl)"><g transform="translate(512.54,21.32) scale(4.305,4.6)">
<path fill="#dedee0" d="M0 .9h8.12v1.22h-8.12zM0 2h5.12v1.12h-5.12zM0 3h7.12v1.12h-7.12zM0 4h5.12v1.12h-5.12zM0 5h2.12v1.12h-2.12zM17 5h4.12v1.12h-4.12zM0 6h2.12v1.12h-2.12zM16 6h5.12v1.12h-5.12zM0 7h2.12v1.12h-2.12zM16 7h5.12v1.12h-5.12zM15 8h6.12v1.12h-6.12zM13 9h4.12v1.12h-4.12zM18 9h3.12v1.12h-3.12zM13 10h8.12v1.12h-8.12zM14 11h3.12v1.12h-3.12zM18 11h3.12v1.12h-3.12zM14 12h3.12v1.12h-3.12zM18 12h3.12v1.12h-3.12zM13 13h4.12v1.12h-4.12zM18 13h3.12v1.12h-3.12zM13 14h8.12v1.12h-8.12zM0 15h3.12v1.12h-3.12zM13 15h8.12v1.12h-8.12zM1 16h4.12v1.12h-4.12zM13 16h8.12v1.12h-8.12zM1 17h1.12v1.12h-1.12zM6 17h1.12v1.12h-1.12zM12 17h9.12v1.12h-9.12zM11 18h3.12v1.12h-3.12zM16 18h5.12v1.12h-5.12z"/>
<path fill="#0080ff" d="M5 2h2.12v1.12h-2.12zM9 3h1.12v1.12h-1.12zM9 4h1.12v1.12h-1.12zM12 4h1.12v1.12h-1.12zM17 4h2.12v1.12h-2.12zM9 5h1.12v1.12h-1.12zM3 6h4.12v1.12h-4.12zM8 6h2.12v1.12h-2.12zM3 7h1.12v1.12h-1.12zM8 7h2.12v1.12h-2.12zM0 8h2.12v1.12h-2.12zM3 8h1.12v1.12h-1.12zM6 8h1.12v1.12h-1.12zM10 8h1.12v1.12h-1.12zM1 9h3.12v1.12h-3.12zM6 9h1.12v1.12h-1.12zM8 9h3.12v1.12h-3.12zM11 10h2.12v1.12h-2.12zM5 11h1.12v1.12h-1.12zM8 11h1.12v1.12h-1.12zM0 12h1.12v1.12h-1.12zM10 12h1.12v1.12h-1.12zM4 14h1.12v1.12h-1.12zM8 14h1.12v1.12h-1.12zM11 14h1.12v1.12h-1.12zM7 15h2.12v1.12h-2.12zM10 15h1.12v1.12h-1.12zM7 16h2.12v1.12h-2.12zM11 17h1.12v1.12h-1.12z"/>
<path fill="#f0f0f2" d="M7 2h1.12v1.12h-1.12zM12 2h1.12v1.12h-1.12zM8 3h1.12v1.12h-1.12zM16 3h1.12v1.12h-1.12zM8 4h1.12v1.12h-1.12zM15 6h1.12v1.12h-1.12zM4 8h1.12v1.12h-1.12zM14 8h1.12v1.12h-1.12zM4 9h1.12v1.12h-1.12zM0 10h1.12v1.12h-1.12zM12 11h1.12v1.12h-1.12zM3 12h1.12v1.12h-1.12zM11 12h1.12v1.12h-1.12zM3 13h1.12v1.12h-1.12zM6 16h1.12v1.12h-1.12zM5 17h1.12v1.12h-1.12zM8 17h1.12v1.12h-1.12zM10 17h1.12v1.12h-1.12z"/>
<path fill="#0000ff" d="M8 2h2.12v1.12h-2.12zM15 3h1.12v1.12h-1.12zM5 4h1.12v1.12h-1.12zM11 4h1.12v1.12h-1.12zM15 4h1.12v1.12h-1.12zM3 5h2.12v1.12h-2.12zM6 5h1.12v1.12h-1.12zM13 5h2.12v1.12h-2.12zM2 6h1.12v1.12h-1.12zM14 6h1.12v1.12h-1.12zM2 7h1.12v1.12h-1.12zM5 7h2.12v1.12h-2.12zM14 7h1.12v1.12h-1.12zM2 8h1.12v1.12h-1.12zM9 8h1.12v1.12h-1.12zM13 8h1.12v1.12h-1.12zM0 9h1.12v1.12h-1.12zM1 10h1.12v1.12h-1.12zM3 10h1.12v1.12h-1.12zM8 10h1.12v1.12h-1.12zM7 11h1.12v1.12h-1.12zM17 11h1.12v1.12h-1.12zM17 12h1.12v1.12h-1.12zM4 13h4.12v1.12h-4.12zM17 13h1.12v1.12h-1.12zM0 14h3.12v1.12h-3.12zM10 14h1.12v1.12h-1.12zM12 15h1.12v1.12h-1.12zM11 16h1.12v1.12h-1.12zM7 17h1.12v1.12h-1.12zM9 18h1.12v1.12h-1.12z"/>
<path fill="#0040ff" d="M10 2h2.12v1.12h-2.12zM10 3h5.12v1.12h-5.12zM13 4h2.12v1.12h-2.12zM16 4h1.12v1.12h-1.12zM7 5h2.12v1.12h-2.12zM16 5h1.12v1.12h-1.12zM12 6h1.12v1.12h-1.12zM4 7h1.12v1.12h-1.12zM7 7h1.12v1.12h-1.12zM11 7h3.12v1.12h-3.12zM11 8h2.12v1.12h-2.12zM11 9h2.12v1.12h-2.12zM17 9h1.12v1.12h-1.12zM2 10h1.12v1.12h-1.12zM5 10h3.12v1.12h-3.12zM9 10h2.12v1.12h-2.12zM4 11h1.12v1.12h-1.12zM9 11h3.12v1.12h-3.12zM13 11h1.12v1.12h-1.12zM5 12h2.12v1.12h-2.12zM8 12h2.12v1.12h-2.12zM0 13h1.12v1.12h-1.12zM8 13h1.12v1.12h-1.12zM10 13h1.12v1.12h-1.12zM3 14h1.12v1.12h-1.12zM7 14h1.12v1.12h-1.12zM9 14h1.12v1.12h-1.12zM11 15h1.12v1.12h-1.12z"/>
<path fill="#0000c2" d="M7 3h1.12v1.12h-1.12zM6 4h1.12v1.12h-1.12zM2 5h1.12v1.12h-1.12zM4 10h1.12v1.12h-1.12zM0 11h4.12v1.12h-4.12zM1 12h2.12v1.12h-2.12zM1 13h2.12v1.12h-2.12zM12 13h1.12v1.12h-1.12zM12 14h1.12v1.12h-1.12zM3 15h4.12v1.12h-4.12zM12 16h1.12v1.12h-1.12z"/>
<path fill="#00ffff" d="M7 4h1.12v1.12h-1.12zM10 4h1.12v1.12h-1.12zM10 5h1.12v1.12h-1.12zM7 6h1.12v1.12h-1.12zM6 11h1.12v1.12h-1.12zM9 16h2.12v1.12h-2.12z"/>
<path fill="#00bfff" d="M19 4h2.12v1.12h-2.12zM12 5h1.12v1.12h-1.12zM15 5h1.12v1.12h-1.12zM10 6h2.12v1.12h-2.12zM13 6h1.12v1.12h-1.12zM10 7h1.12v1.12h-1.12zM8 8h1.12v1.12h-1.12zM5 9h1.12v1.12h-1.12zM7 9h1.12v1.12h-1.12zM7 12h1.12v1.12h-1.12zM12 12h2.12v1.12h-2.12zM9 13h1.12v1.12h-1.12z"/>
<path fill="#000084" d="M5 5h1.12v1.12h-1.12zM15 7h1.12v1.12h-1.12zM5 8h1.12v1.12h-1.12zM4 12h1.12v1.12h-1.12zM11 13h1.12v1.12h-1.12zM6 14h1.12v1.12h-1.12zM9 15h1.12v1.12h-1.12zM5 16h1.12v1.12h-1.12zM5 18h1.12v1.12h-1.12z"/>
<path fill="#80ff80" d="M11 5h1.12v1.12h-1.12z"/>
<path fill="#40ffbf" d="M7 8h1.12v1.12h-1.12zM9 17h1.12v1.12h-1.12z"/>
<path fill="#bfff40" d="M5 14h1.12v1.12h-1.12z"/>
</g></g></g>
<clipPath id="ca6"><rect x="601.40" y="21.60" width="87.10" height="84.30"/></clipPath>
<g clip-path="url(#ca6)"><g filter="url(#bl)"><g transform="translate(599.34,21.32) scale(4.305,4.6)">
<path fill="#dedee0" d="M0 .9h2.12v1.22h-2.12zM3 .9h2.12v1.22h-2.12zM6 .9h1.12v1.22h-1.12zM0 2h1.12v1.12h-1.12zM3 2h1.12v1.12h-1.12zM8 2h2.12v1.12h-2.12zM0 3h3.12v1.12h-3.12zM0 4h2.12v1.12h-2.12zM17 6h4.12v1.12h-4.12zM15 7h6.12v1.12h-6.12zM15 8h6.12v1.12h-6.12zM15 9h1.12v1.12h-1.12zM17 9h4.12v1.12h-4.12zM15 10h1.12v1.12h-1.12zM17 10h4.12v1.12h-4.12zM14 11h1.12v1.12h-1.12zM17 11h4.12v1.12h-4.12zM15 12h1.12v1.12h-1.12zM17 12h4.12v1.12h-4.12zM2 13h1.12v1.12h-1.12zM13 13h1.12v1.12h-1.12zM15 13h6.12v1.12h-6.12zM0 14h3.12v1.12h-3.12zM12 14h1.12v1.12h-1.12zM14 14h7.12v1.12h-7.12zM0 15h4.12v1.12h-4.12zM12 15h1.12v1.12h-1.12zM14 15h2.12v1.12h-2.12zM17 15h4.12v1.12h-4.12zM5 16h2.12v1.12h-2.12zM12 16h2.12v1.12h-2.12zM15 16h1.12v1.12h-1.12zM17 16h4.12v1.12h-4.12zM5 17h1.12v1.12h-1.12zM10 17h11.12v1.12h-11.12zM15 18h1.12v1.12h-1.12zM17 18h4.12v1.12h-4.12z"/>
<path fill="#0000c2" d="M2 .9h1.12v1.22h-1.12zM6 3h2.12v1.12h-2.12zM4 7h1.12v1.12h-1.12zM14 8h1.12v1.12h-1.12zM3 11h1.12v1.12h-1.12zM9 11h1.12v1.12h-1.12zM4 15h2.12v1.12h-2.12z"/>
<path fill="#00bfff" d="M5 .9h1.12v1.22h-1.12zM5 2h1.12v1.12h-1.12zM10 3h1.12v1.12h-1.12zM8 4h1.12v1.12h-1.12zM2 5h1.12v1.12h-1.12zM5 5h1.12v1.12h-1.12zM1 6h1.12v1.12h-1.12zM11 6h2.12v1.12h-2.12zM6 7h1.12v1.12h-1.12zM10 7h1.12v1.12h-1.12zM5 9h1.12v1.12h-1.12zM9 9h1.12v1.12h-1.12zM5 10h1.12v1.12h-1.12zM10 11h1.12v1.12h-1.12zM10 12h1.12v1.12h-1.12zM12 12h1.12v1.12h-1.12zM7 13h1.12v1.12h-1.12zM11 13h1.12v1.12h-1.12zM11 14h1.12v1.12h-1.12z"/>
<path fill="#f0f0f2" d="M7 .9h1.12v1.22h-1.12zM2 2h1.12v1.12h-1.12zM12 2h1.12v1.12h-1.12zM4 3h1.12v1.12h-1.12zM19 5h2.12v1.12h-2.12zM14 10h1.12v1.12h-1.12zM13 11h1.12v1.12h-1.12zM13 12h1.12v1.12h-1.12zM6 17h1.12v1.12h-1.12zM8 17h1.12v1.12h-1.12zM5 18h10.12v1.12h-10.12zM16 18h1.12v1.12h-1.12z"/>
<path fill="#0040ff" d="M1 2h1.12v1.12h-1.12zM4 2h1.12v1.12h-1.12zM3 3h1.12v1.12h-1.12zM13 4h2.12v1.12h-2.12zM8 5h1.12v1.12h-1.12zM13 5h1.12v1.12h-1.12zM0 6h1.12v1.12h-1.12zM5 6h1.12v1.12h-1.12zM13 6h2.12v1.12h-2.12zM0 7h2.12v1.12h-2.12zM8 7h1.12v1.12h-1.12zM11 7h3.12v1.12h-3.12zM4 8h2.12v1.12h-2.12zM9 8h1.12v1.12h-1.12zM13 8h1.12v1.12h-1.12zM0 9h1.12v1.12h-1.12zM3 9h1.12v1.12h-1.12zM11 9h1.12v1.12h-1.12zM2 10h3.12v1.12h-3.12zM8 10h1.12v1.12h-1.12zM10 10h3.12v1.12h-3.12zM0 11h1.12v1.12h-1.12zM4 11h1.12v1.12h-1.12zM8 11h1.12v1.12h-1.12zM0 12h1.12v1.12h-1.12zM3 12h1.12v1.12h-1.12zM7 12h2.12v1.12h-2.12zM16 12h1.12v1.12h-1.12zM0 13h2.12v1.12h-2.12zM10 15h1.12v1.12h-1.12zM7 16h2.12v1.12h-2.12z"/>
<path fill="#00000a" d="M6 2h1.12v1.12h-1.12z"/>
<path fill="#00ffff" d="M7 2h1.12v1.12h-1.12zM15 3h2.12v1.12h-2.12zM10 4h3.12v1.12h-3.12zM9 5h2.12v1.12h-2.12zM12 5h1.12v1.12h-1.12zM9 6h1.12v1.12h-1.12zM2 7h1.12v1.12h-1.12zM6 9h2.12v1.12h-2.12zM13 10h1.12v1.12h-1.12zM5 12h1.12v1.12h-1.12zM13 14h1.12v1.12h-1.12z"/>
<path fill="#0000ff" d="M10 2h2.12v1.12h-2.12zM5 3h1.12v1.12h-1.12zM9 3h1.12v1.12h-1.12zM11 3h2.12v1.12h-2.12zM2 4h1.12v1.12h-1.12zM0 5h2.12v1.12h-2.12zM14 5h1.12v1.12h-1.12zM17 5h2.12v1.12h-2.12zM9 7h1.12v1.12h-1.12zM14 7h1.12v1.12h-1.12zM0 8h1.12v1.12h-1.12zM12 9h3.12v1.12h-3.12zM16 10h1.12v1.12h-1.12zM16 11h1.12v1.12h-1.12zM1 12h2.12v1.12h-2.12zM11 12h1.12v1.12h-1.12zM8 13h1.12v1.12h-1.12zM12 13h1.12v1.12h-1.12zM10 14h1.12v1.12h-1.12zM9 15h1.12v1.12h-1.12zM16 15h1.12v1.12h-1.12zM9 16h3.12v1.12h-3.12zM16 16h1.12v1.12h-1.12zM7 17h1.12v1.12h-1.12zM9 17h1.12v1.12h-1.12z"/>
<path fill="#0080ff" d="M8 3h1.12v1.12h-1.12zM13 3h1.12v1.12h-1.12zM3 4h4.12v1.12h-4.12zM9 4h1.12v1.12h-1.12zM15 4h6.12v1.12h-6.12zM3 5h2.12v1.12h-2.12zM6 5h2.12v1.12h-2.12zM15 5h2.12v1.12h-2.12zM2 6h3.12v1.12h-3.12zM6 6h3.12v1.12h-3.12zM10 6h1.12v1.12h-1.12zM15 6h2.12v1.12h-2.12zM3 7h1.12v1.12h-1.12zM5 7h1.12v1.12h-1.12zM7 7h1.12v1.12h-1.12zM1 8h1.12v1.12h-1.12zM3 8h1.12v1.12h-1.12zM6 8h3.12v1.12h-3.12zM10 8h3.12v1.12h-3.12zM1 9h2.12v1.12h-2.12zM4 9h1.12v1.12h-1.12zM8 9h1.12v1.12h-1.12zM10 9h1.12v1.12h-1.12zM16 9h1.12v1.12h-1.12zM0 10h2.12v1.12h-2.12zM6 10h2.12v1.12h-2.12zM9 10h1.12v1.12h-1.12zM1 11h2.12v1.12h-2.12zM5 11h1.12v1.12h-1.12zM7 11h1.12v1.12h-1.12zM12 11h1.12v1.12h-1.12zM15 11h1.12v1.12h-1.12zM4 12h1.12v1.12h-1.12zM6 12h1.12v1.12h-1.12zM9 12h1.12v1.12h-1.12zM14 12h1.12v1.12h-1.12zM3 13h1.12v1.12h-1.12zM5 13h2.12v1.12h-2.12zM9 13h2.12v1.12h-2.12zM14 13h1.12v1.12h-1.12zM3 14h1.12v1.12h-1.12zM5 14h1.12v1.12h-1.12zM8 14h2.12v1.12h-2.12zM7 15h2.12v1.12h-2.12zM11 15h1.12v1.12h-1.12zM14 16h1.12v1.12h-1.12z"/>
<path fill="#40ffbf" d="M14 3h1.12v1.12h-1.12zM2 8h1.12v1.12h-1.12zM6 11h1.12v1.12h-1.12zM6 14h2.12v1.12h-2.12z"/>
<path fill="#bfff40" d="M7 4h1.12v1.12h-1.12zM11 5h1.12v1.12h-1.12zM4 14h1.12v1.12h-1.12zM6 15h1.12v1.12h-1.12z"/>
<path fill="#000084" d="M11 11h1.12v1.12h-1.12zM4 13h1.12v1.12h-1.12zM13 15h1.12v1.12h-1.12z"/>
</g></g></g>
<clipPath id="ca7"><rect x="688.50" y="21.60" width="85.90" height="84.30"/></clipPath>
<g clip-path="url(#ca7)"><g filter="url(#bl)"><g transform="translate(685.64,21.32) scale(4.305,4.6)">
<path fill="#dedee0" d="M0 .9h7.12v1.22h-7.12zM0 2h5.12v1.12h-5.12zM0 3h4.12v1.12h-4.12zM3 4h1.12v1.12h-1.12zM3 5h1.12v1.12h-1.12zM19 6h2.12v1.12h-2.12zM18 7h3.12v1.12h-3.12zM18 8h3.12v1.12h-3.12zM15 9h6.12v1.12h-6.12zM15 10h6.12v1.12h-6.12zM16 11h5.12v1.12h-5.12zM17 12h4.12v1.12h-4.12zM16 13h5.12v1.12h-5.12zM14 14h1.12v1.12h-1.12zM16 14h5.12v1.12h-5.12zM0 15h3.12v1.12h-3.12zM16 15h5.12v1.12h-5.12zM3 16h1.12v1.12h-1.12zM6 16h3.12v1.12h-3.12zM11 16h1.12v1.12h-1.12zM13 16h2.12v1.12h-2.12zM17 16h4.12v1.12h-4.12zM7 17h2.12v1.12h-2.12zM10 17h4.12v1.12h-4.12zM17 17h4.12v1.12h-4.12z"/>
<path fill="#000084" d="M7 .9h1.12v1.22h-1.12zM7 2h1.12v1.12h-1.12zM2 5h1.12v1.12h-1.12zM9 15h1.12v1.12h-1.12z"/>
<path fill="#0080ff" d="M5 2h2.12v1.12h-2.12zM8 3h2.12v1.12h-2.12zM12 3h1.12v1.12h-1.12zM6 4h3.12v1.12h-3.12zM11 4h1.12v1.12h-1.12zM15 4h1.12v1.12h-1.12zM19 4h1.12v1.12h-1.12zM6 5h1.12v1.12h-1.12zM13 5h1.12v1.12h-1.12zM15 5h1.12v1.12h-1.12zM18 5h1.12v1.12h-1.12zM4 6h1.12v1.12h-1.12zM13 6h1.12v1.12h-1.12zM3 7h1.12v1.12h-1.12zM11 7h1.12v1.12h-1.12zM2 8h2.12v1.12h-2.12zM6 8h1.12v1.12h-1.12zM10 8h2.12v1.12h-2.12zM2 9h1.12v1.12h-1.12zM4 9h1.12v1.12h-1.12zM7 9h3.12v1.12h-3.12zM14 9h1.12v1.12h-1.12zM2 10h1.12v1.12h-1.12zM4 10h1.12v1.12h-1.12zM2 11h4.12v1.12h-4.12zM12 11h1.12v1.12h-1.12zM15 11h1.12v1.12h-1.12zM4 12h2.12v1.12h-2.12zM7 12h1.12v1.12h-1.12zM9 12h1.12v1.12h-1.12zM12 12h2.12v1.12h-2.12zM5 13h1.12v1.12h-1.12zM7 13h1.12v1.12h-1.12zM4 14h1.12v1.12h-1.12zM7 14h2.12v1.12h-2.12zM5 15h3.12v1.12h-3.12zM4 16h1.12v1.12h-1.12z"/>
<path fill="#0040ff" d="M8 2h1.12v1.12h-1.12zM11 3h1.12v1.12h-1.12zM13 4h1.12v1.12h-1.12zM17 4h2.12v1.12h-2.12zM14 5h1.12v1.12h-1.12zM16 5h1.12v1.12h-1.12zM3 6h1.12v1.12h-1.12zM15 6h1.12v1.12h-1.12zM13 7h2.12v1.12h-2.12zM1 8h1.12v1.12h-1.12zM9 8h1.12v1.12h-1.12zM12 8h1.12v1.12h-1.12zM14 8h2.12v1.12h-2.12zM1 9h1.12v1.12h-1.12zM11 9h3.12v1.12h-3.12zM1 10h1.12v1.12h-1.12zM8 10h5.12v1.12h-5.12zM0 11h1.12v1.12h-1.12zM3 12h1.12v1.12h-1.12zM10 12h2.12v1.12h-2.12zM16 12h1.12v1.12h-1.12zM0 13h1.12v1.12h-1.12zM3 13h1.12v1.12h-1.12zM10 13h1.12v1.12h-1.12zM1 14h2.12v1.12h-2.12zM9 14h2.12v1.12h-2.12zM3 15h2.12v1.12h-2.12zM8 15h1.12v1.12h-1.12zM12 15h1.12v1.12h-1.12zM14 15h1.12v1.12h-1.12zM10 16h1.12v1.12h-1.12z"/>
<path fill="#0000ff" d="M9 2h3.12v1.12h-3.12zM4 3h3.12v1.12h-3.12zM14 3h1.12v1.12h-1.12zM0 4h3.12v1.12h-3.12zM14 4h1.12v1.12h-1.12zM16 4h1.12v1.12h-1.12zM20 4h1.12v1.12h-1.12zM0 5h2.12v1.12h-2.12zM4 5h2.12v1.12h-2.12zM17 5h1.12v1.12h-1.12zM19 5h1.12v1.12h-1.12zM14 6h1.12v1.12h-1.12zM16 6h1.12v1.12h-1.12zM0 7h3.12v1.12h-3.12zM12 7h1.12v1.12h-1.12zM15 7h2.12v1.12h-2.12zM0 8h1.12v1.12h-1.12zM13 8h1.12v1.12h-1.12zM0 9h1.12v1.12h-1.12zM3 9h1.12v1.12h-1.12zM0 10h1.12v1.12h-1.12zM3 10h1.12v1.12h-1.12zM13 10h1.12v1.12h-1.12zM10 11h2.12v1.12h-2.12zM1 13h2.12v1.12h-2.12zM11 13h1.12v1.12h-1.12zM3 14h1.12v1.12h-1.12zM13 14h1.12v1.12h-1.12zM15 15h1.12v1.12h-1.12zM9 16h1.12v1.12h-1.12zM15 16h1.12v1.12h-1.12z"/>
<path fill="#f0f0f2" d="M12 2h1.12v1.12h-1.12zM15 3h2.12v1.12h-2.12zM0 6h3.12v1.12h-3.12zM18 6h1.12v1.12h-1.12zM16 8h1.12v1.12h-1.12zM14 10h1.12v1.12h-1.12zM14 11h1.12v1.12h-1.12zM14 12h1.12v1.12h-1.12zM13 13h2.12v1.12h-2.12zM11 14h1.12v1.12h-1.12zM10 15h2.12v1.12h-2.12zM13 15h1.12v1.12h-1.12zM16 16h1.12v1.12h-1.12zM6 17h1.12v1.12h-1.12zM15 17h2.12v1.12h-2.12zM17 18h4.12v1.12h-4.12z"/>
<path fill="#80ff80" d="M7 3h1.12v1.12h-1.12zM8 5h1.12v1.12h-1.12zM11 5h1.12v1.12h-1.12zM9 6h1.12v1.12h-1.12z"/>
<path fill="#00bfff" d="M10 3h1.12v1.12h-1.12zM7 5h1.12v1.12h-1.12zM5 6h3.12v1.12h-3.12zM11 6h2.12v1.12h-2.12zM4 7h4.12v1.12h-4.12zM4 8h2.12v1.12h-2.12zM7 8h1.12v1.12h-1.12zM6 9h1.12v1.12h-1.12zM5 10h1.12v1.12h-1.12zM7 10h1.12v1.12h-1.12zM1 11h1.12v1.12h-1.12zM6 11h2.12v1.12h-2.12zM9 11h1.12v1.12h-1.12zM6 12h1.12v1.12h-1.12zM8 12h1.12v1.12h-1.12zM15 12h1.12v1.12h-1.12zM4 13h1.12v1.12h-1.12zM6 13h1.12v1.12h-1.12zM8 13h1.12v1.12h-1.12zM5 14h1.12v1.12h-1.12z"/>
<path fill="#00ffff" d="M13 3h1.12v1.12h-1.12zM9 4h2.12v1.12h-2.12zM12 4h1.12v1.12h-1.12zM10 6h1.12v1.12h-1.12zM9 7h2.12v1.12h-2.12zM5 9h1.12v1.12h-1.12zM10 9h1.12v1.12h-1.12zM6 10h1.12v1.12h-1.12zM0 12h2.12v1.12h-2.12zM9 13h1.12v1.12h-1.12zM6 14h1.12v1.12h-1.12zM5 16h1.12v1.12h-1.12zM14 17h1.12v1.12h-1.12z"/>
<path fill="#0000c2" d="M4 4h1.12v1.12h-1.12zM17 6h1.12v1.12h-1.12zM17 7h1.12v1.12h-1.12zM17 8h1.12v1.12h-1.12zM13 11h1.12v1.12h-1.12zM2 12h1.12v1.12h-1.12zM12 13h1.12v1.12h-1.12zM15 13h1.12v1.12h-1.12zM0 14h1.12v1.12h-1.12zM12 14h1.12v1.12h-1.12zM15 14h1.12v1.12h-1.12zM12 16h1.12v1.12h-1.12z"/>
<path fill="#40ffbf" d="M5 4h1.12v1.12h-1.12zM12 5h1.12v1.12h-1.12zM8 6h1.12v1.12h-1.12zM8 7h1.12v1.12h-1.12zM8 8h1.12v1.12h-1.12z"/>
<path fill="#bfff40" d="M9 5h1.12v1.12h-1.12zM8 11h1.12v1.12h-1.12z"/>
<path fill="#ffff00" d="M10 5h1.12v1.12h-1.12z"/>
</g></g></g>
<rect x="120.85" y="54.50" width="4.1" height="4.1" fill="none" stroke="#ff0000" stroke-width="1.9"/>
<rect x="207.45" y="54.50" width="4.1" height="4.1" fill="none" stroke="#ff0000" stroke-width="1.9"/>
<rect x="294.75" y="54.50" width="4.1" height="4.1" fill="none" stroke="#ff0000" stroke-width="1.9"/>
<rect x="380.75" y="54.50" width="4.1" height="4.1" fill="none" stroke="#ff0000" stroke-width="1.9"/>
<rect x="468.75" y="54.50" width="4.1" height="4.1" fill="none" stroke="#ff0000" stroke-width="1.9"/>
<rect x="555.95" y="54.50" width="4.1" height="4.1" fill="none" stroke="#ff0000" stroke-width="1.9"/>
<rect x="642.75" y="54.50" width="4.1" height="4.1" fill="none" stroke="#ff0000" stroke-width="1.9"/>
<rect x="729.05" y="54.50" width="4.1" height="4.1" fill="none" stroke="#ff0000" stroke-width="1.9"/>
<g stroke="#000" stroke-width="1.3" fill="none">
<rect x="78.4" y="21.4" width="696.0" height="86.80000000000001"/>
<line x1="165.1" y1="21.4" x2="165.1" y2="108.2"/>
<line x1="253.3" y1="21.4" x2="253.3" y2="108.2"/>
<line x1="339.3" y1="21.4" x2="339.3" y2="108.2"/>
<line x1="427.2" y1="21.4" x2="427.2" y2="108.2"/>
<line x1="513.9" y1="21.4" x2="513.9" y2="108.2"/>
<line x1="601.4" y1="21.4" x2="601.4" y2="108.2"/>
<line x1="688.5" y1="21.4" x2="688.5" y2="108.2"/>
</g>
<g stroke="#000" stroke-width="0.8">
<line x1="162.9" y1="63.6" x2="167.1" y2="63.6"/>
<line x1="78.4" y1="103.9" x2="80.60000000000001" y2="103.9"/>
<line x1="161.6" y1="103.9" x2="165.1" y2="103.9"/>
<line x1="111.7" y1="21.4" x2="111.7" y2="24.4"/>
<line x1="251.10000000000002" y1="63.6" x2="255.3" y2="63.6"/>
<line x1="165.1" y1="103.9" x2="167.29999999999998" y2="103.9"/>
<line x1="249.8" y1="103.9" x2="253.3" y2="103.9"/>
<line x1="198.39999999999998" y1="21.4" x2="198.39999999999998" y2="24.4"/>
<line x1="337.1" y1="63.6" x2="341.3" y2="63.6"/>
<line x1="253.3" y1="103.9" x2="255.5" y2="103.9"/>
<line x1="335.8" y1="103.9" x2="339.3" y2="103.9"/>
<line x1="286.6" y1="21.4" x2="286.6" y2="24.4"/>
<line x1="425.0" y1="63.6" x2="429.2" y2="63.6"/>
<line x1="339.3" y1="103.9" x2="341.5" y2="103.9"/>
<line x1="423.7" y1="103.9" x2="427.2" y2="103.9"/>
<line x1="372.6" y1="21.4" x2="372.6" y2="24.4"/>
<line x1="511.7" y1="63.6" x2="515.9" y2="63.6"/>
<line x1="427.2" y1="103.9" x2="429.4" y2="103.9"/>
<line x1="510.4" y1="103.9" x2="513.9" y2="103.9"/>
<line x1="460.5" y1="21.4" x2="460.5" y2="24.4"/>
<line x1="599.1999999999999" y1="63.6" x2="603.4" y2="63.6"/>
<line x1="513.9" y1="103.9" x2="516.1" y2="103.9"/>
<line x1="597.9" y1="103.9" x2="601.4" y2="103.9"/>
<line x1="547.1999999999999" y1="21.4" x2="547.1999999999999" y2="24.4"/>
<line x1="686.3" y1="63.6" x2="690.5" y2="63.6"/>
<line x1="601.4" y1="103.9" x2="603.6" y2="103.9"/>
<line x1="685.0" y1="103.9" x2="688.5" y2="103.9"/>
<line x1="634.6999999999999" y1="21.4" x2="634.6999999999999" y2="24.4"/>
<line x1="772.1999999999999" y1="63.6" x2="774.4" y2="63.6"/>
<line x1="688.5" y1="103.9" x2="690.7" y2="103.9"/>
<line x1="770.9" y1="103.9" x2="774.4" y2="103.9"/>
<line x1="721.8" y1="21.4" x2="721.8" y2="24.4"/>
</g>
<line x1="338.7" y1="20.6" x2="427.8" y2="20.6" stroke="#000" stroke-width="1"/>
<clipPath id="cb0"><rect x="78.40" y="232.30" width="86.70" height="86.60"/></clipPath>
<g clip-path="url(#cb0)"><g filter="url(#bl)"><g transform="translate(76.44,232.02) scale(4.305,4.6)">
<path fill="#40ffbf" d="M0 .9h2.12v1.22h-2.12zM7 .9h1.12v1.22h-1.12zM1 2h1.12v1.12h-1.12zM7 2h5.12v1.12h-5.12zM1 3h1.12v1.12h-1.12zM13 3h4.12v1.12h-4.12zM0 4h1.12v1.12h-1.12zM3 4h1.12v1.12h-1.12zM15 5h1.12v1.12h-1.12zM15 6h1.12v1.12h-1.12zM16 7h1.12v1.12h-1.12zM16 8h1.12v1.12h-1.12zM2 9h1.12v1.12h-1.12zM17 9h1.12v1.12h-1.12zM2 10h1.12v1.12h-1.12zM14 10h1.12v1.12h-1.12zM17 10h1.12v1.12h-1.12zM2 11h1.12v1.12h-1.12zM4 11h1.12v1.12h-1.12zM17 11h1.12v1.12h-1.12zM2 12h3.12v1.12h-3.12zM17 12h1.12v1.12h-1.12zM3 13h1.12v1.12h-1.12zM6 13h4.12v1.12h-4.12zM11 13h1.12v1.12h-1.12zM13 13h1.12v1.12h-1.12zM15 13h2.12v1.12h-2.12zM6 14h1.12v1.12h-1.12zM8 14h2.12v1.12h-2.12zM11 14h3.12v1.12h-3.12zM15 14h1.12v1.12h-1.12zM6 15h4.12v1.12h-4.12zM11 15h1.12v1.12h-1.12zM13 15h1.12v1.12h-1.12zM11 17h1.12v1.12h-1.12z"/>
<path fill="#00ffff" d="M2 .9h1.12v1.22h-1.12zM6 .9h1.12v1.22h-1.12zM0 2h1.12v1.12h-1.12zM2 2h1.12v1.12h-1.12zM5 2h2.12v1.12h-2.12zM0 3h1.12v1.12h-1.12zM2 3h1.12v1.12h-1.12zM2 4h1.12v1.12h-1.12zM4 4h1.12v1.12h-1.12zM16 4h5.12v1.12h-5.12zM17 5h1.12v1.12h-1.12zM19 5h2.12v1.12h-2.12zM16 6h5.12v1.12h-5.12zM17 7h2.12v1.12h-2.12zM17 8h1.12v1.12h-1.12zM19 8h2.12v1.12h-2.12zM18 9h3.12v1.12h-3.12zM0 10h1.12v1.12h-1.12zM5 10h1.12v1.12h-1.12zM18 10h1.12v1.12h-1.12zM0 11h1.12v1.12h-1.12zM5 11h1.12v1.12h-1.12zM0 12h2.12v1.12h-2.12zM5 12h1.12v1.12h-1.12zM0 13h1.12v1.12h-1.12zM4 13h1.12v1.12h-1.12zM0 14h3.12v1.12h-3.12zM4 14h2.12v1.12h-2.12zM10 14h1.12v1.12h-1.12zM16 14h1.12v1.12h-1.12zM3 15h1.12v1.12h-1.12zM12 15h1.12v1.12h-1.12zM14 15h1.12v1.12h-1.12zM7 16h1.12v1.12h-1.12zM13 16h4.12v1.12h-4.12zM14 17h1.12v1.12h-1.12zM16 17h1.12v1.12h-1.12zM0 18h1.12v1.12h-1.12z"/>
<path fill="#0080ff" d="M3 .9h1.12v1.22h-1.12zM5 .9h1.12v1.22h-1.12zM3 2h1.12v1.12h-1.12zM3 3h2.12v1.12h-2.12zM1 9h1.12v1.12h-1.12zM1 10h1.12v1.12h-1.12zM19 10h2.12v1.12h-2.12zM14 14h1.12v1.12h-1.12zM4 15h1.12v1.12h-1.12zM5 16h2.12v1.12h-2.12zM8 16h5.12v1.12h-5.12zM2 17h1.12v1.12h-1.12zM9 17h1.12v1.12h-1.12z"/>
<path fill="#00bfff" d="M4 .9h1.12v1.22h-1.12zM4 2h1.12v1.12h-1.12zM16 5h1.12v1.12h-1.12zM19 7h2.12v1.12h-2.12zM18 8h1.12v1.12h-1.12zM0 9h1.12v1.12h-1.12zM16 10h1.12v1.12h-1.12zM1 11h1.12v1.12h-1.12zM16 11h1.12v1.12h-1.12zM1 13h1.12v1.12h-1.12zM5 13h1.12v1.12h-1.12zM3 14h1.12v1.12h-1.12zM5 15h1.12v1.12h-1.12zM3 17h1.12v1.12h-1.12zM10 17h1.12v1.12h-1.12z"/>
<path fill="#ffbf00" d="M12 2h1.12v1.12h-1.12zM6 3h1.12v1.12h-1.12zM9 3h1.12v1.12h-1.12zM6 4h1.12v1.12h-1.12zM8 4h1.12v1.12h-1.12zM10 4h2.12v1.12h-2.12zM13 4h1.12v1.12h-1.12zM11 6h3.12v1.12h-3.12zM6 7h1.12v1.12h-1.12zM12 7h2.12v1.12h-2.12zM4 9h1.12v1.12h-1.12zM8 9h1.12v1.12h-1.12zM10 9h1.12v1.12h-1.12zM3 10h1.12v1.12h-1.12zM9 10h1.12v1.12h-1.12zM3 11h1.12v1.12h-1.12zM8 11h2.12v1.12h-2.12zM14 12h1.12v1.12h-1.12z"/>
<path fill="#ffff00" d="M5 3h1.12v1.12h-1.12zM7 3h1.12v1.12h-1.12zM10 3h1.12v1.12h-1.12zM5 4h1.12v1.12h-1.12zM7 4h1.12v1.12h-1.12zM9 4h1.12v1.12h-1.12zM12 4h1.12v1.12h-1.12zM6 5h1.12v1.12h-1.12zM9 5h2.12v1.12h-2.12zM13 5h1.12v1.12h-1.12zM1 6h1.12v1.12h-1.12zM4 6h1.12v1.12h-1.12zM6 6h1.12v1.12h-1.12zM1 7h1.12v1.12h-1.12zM7 7h1.12v1.12h-1.12zM11 7h1.12v1.12h-1.12zM5 8h2.12v1.12h-2.12zM11 8h2.12v1.12h-2.12zM6 9h1.12v1.12h-1.12zM11 9h1.12v1.12h-1.12zM7 10h2.12v1.12h-2.12zM10 10h2.12v1.12h-2.12zM6 11h1.12v1.12h-1.12zM10 11h1.12v1.12h-1.12zM14 11h1.12v1.12h-1.12zM6 12h1.12v1.12h-1.12zM12 13h1.12v1.12h-1.12z"/>
<path fill="#bfff40" d="M8 3h1.12v1.12h-1.12zM11 3h1.12v1.12h-1.12zM2 5h1.12v1.12h-1.12zM5 5h1.12v1.12h-1.12zM2 6h1.12v1.12h-1.12zM5 6h1.12v1.12h-1.12zM0 7h1.12v1.12h-1.12zM2 7h1.12v1.12h-1.12zM5 7h1.12v1.12h-1.12zM14 7h1.12v1.12h-1.12zM1 8h1.12v1.12h-1.12zM4 8h1.12v1.12h-1.12zM13 8h2.12v1.12h-2.12zM5 9h1.12v1.12h-1.12zM12 9h2.12v1.12h-2.12zM16 9h1.12v1.12h-1.12zM4 10h1.12v1.12h-1.12zM12 10h1.12v1.12h-1.12zM7 11h1.12v1.12h-1.12zM18 11h1.12v1.12h-1.12zM8 12h2.12v1.12h-2.12zM16 12h1.12v1.12h-1.12zM2 13h1.12v1.12h-1.12z"/>
<path fill="#80ff80" d="M12 3h1.12v1.12h-1.12zM1 4h1.12v1.12h-1.12zM14 4h2.12v1.12h-2.12zM0 5h2.12v1.12h-2.12zM3 5h2.12v1.12h-2.12zM14 5h1.12v1.12h-1.12zM0 6h1.12v1.12h-1.12zM3 6h1.12v1.12h-1.12zM14 6h1.12v1.12h-1.12zM3 7h2.12v1.12h-2.12zM15 7h1.12v1.12h-1.12zM0 8h1.12v1.12h-1.12zM2 8h2.12v1.12h-2.12zM15 8h1.12v1.12h-1.12zM3 9h1.12v1.12h-1.12zM14 9h2.12v1.12h-2.12zM13 10h1.12v1.12h-1.12zM15 10h1.12v1.12h-1.12zM11 11h3.12v1.12h-3.12zM15 11h1.12v1.12h-1.12zM7 12h1.12v1.12h-1.12zM11 12h3.12v1.12h-3.12zM15 12h1.12v1.12h-1.12zM10 13h1.12v1.12h-1.12zM14 13h1.12v1.12h-1.12zM7 14h1.12v1.12h-1.12zM10 15h1.12v1.12h-1.12zM12 17h1.12v1.12h-1.12z"/>
<path fill="#ff8000" d="M7 5h2.12v1.12h-2.12zM12 5h1.12v1.12h-1.12zM9 6h1.12v1.12h-1.12zM10 8h1.12v1.12h-1.12z"/>
<path fill="#ff4000" d="M11 5h1.12v1.12h-1.12zM7 6h2.12v1.12h-2.12zM10 6h1.12v1.12h-1.12zM8 7h3.12v1.12h-3.12zM7 8h3.12v1.12h-3.12zM7 9h1.12v1.12h-1.12zM9 9h1.12v1.12h-1.12zM6 10h1.12v1.12h-1.12z"/>
<path fill="#0040ff" d="M18 5h1.12v1.12h-1.12zM19 17h2.12v1.12h-2.12z"/>
<path fill="#dedee0" d="M19 11h2.12v1.12h-2.12zM18 12h3.12v1.12h-3.12zM17 13h4.12v1.12h-4.12zM17 14h4.12v1.12h-4.12zM15 15h6.12v1.12h-6.12zM17 16h4.12v1.12h-4.12zM17 17h2.12v1.12h-2.12z"/>
<path fill="#f0f0f2" d="M10 12h1.12v1.12h-1.12zM0 15h1.12v1.12h-1.12zM2 15h1.12v1.12h-1.12zM2 16h1.12v1.12h-1.12zM4 16h1.12v1.12h-1.12zM0 17h2.12v1.12h-2.12zM5 17h1.12v1.12h-1.12zM13 17h1.12v1.12h-1.12z"/>
<path fill="#000084" d="M1 15h1.12v1.12h-1.12zM3 16h1.12v1.12h-1.12z"/>
<path fill="#00000a" d="M0 16h2.12v1.12h-2.12z"/>
<path fill="#0000ff" d="M8 17h1.12v1.12h-1.12zM15 17h1.12v1.12h-1.12zM11 18h1.12v1.12h-1.12z"/>
</g></g></g>
<clipPath id="cb1"><rect x="165.10" y="232.30" width="88.20" height="86.60"/></clipPath>
<g clip-path="url(#cb1)"><g filter="url(#bl)"><g transform="translate(163.34,232.02) scale(4.305,4.6)">
<path fill="#40ffbf" d="M0 .9h2.12v1.22h-2.12zM3 .9h1.12v1.22h-1.12zM5 .9h1.12v1.22h-1.12zM7 .9h1.12v1.22h-1.12zM3 2h1.12v1.12h-1.12zM6 2h5.12v1.12h-5.12zM4 3h2.12v1.12h-2.12zM8 3h1.12v1.12h-1.12zM11 3h2.12v1.12h-2.12zM16 3h1.12v1.12h-1.12zM2 4h1.12v1.12h-1.12zM4 4h2.12v1.12h-2.12zM16 4h1.12v1.12h-1.12zM2 5h2.12v1.12h-2.12zM16 5h1.12v1.12h-1.12zM5 6h1.12v1.12h-1.12zM14 6h1.12v1.12h-1.12zM16 6h1.12v1.12h-1.12zM1 7h3.12v1.12h-3.12zM14 7h1.12v1.12h-1.12zM1 8h2.12v1.12h-2.12zM7 8h1.12v1.12h-1.12zM13 8h3.12v1.12h-3.12zM3 9h1.12v1.12h-1.12zM6 9h1.12v1.12h-1.12zM14 9h1.12v1.12h-1.12zM3 10h1.12v1.12h-1.12zM10 10h1.12v1.12h-1.12zM12 10h2.12v1.12h-2.12zM16 10h1.12v1.12h-1.12zM8 11h1.12v1.12h-1.12zM10 11h1.12v1.12h-1.12zM12 11h1.12v1.12h-1.12zM6 12h1.12v1.12h-1.12zM9 12h1.12v1.12h-1.12z"/>
<path fill="#00ffff" d="M2 .9h1.12v1.22h-1.12zM4 2h2.12v1.12h-2.12zM11 2h1.12v1.12h-1.12zM3 3h1.12v1.12h-1.12zM0 4h2.12v1.12h-2.12zM17 4h4.12v1.12h-4.12zM0 5h2.12v1.12h-2.12zM7 5h1.12v1.12h-1.12zM13 5h1.12v1.12h-1.12zM0 6h4.12v1.12h-4.12zM0 7h1.12v1.12h-1.12zM15 7h2.12v1.12h-2.12zM0 8h1.12v1.12h-1.12zM16 8h1.12v1.12h-1.12zM19 8h2.12v1.12h-2.12zM15 9h1.12v1.12h-1.12zM14 10h1.12v1.12h-1.12zM0 11h1.12v1.12h-1.12zM5 11h1.12v1.12h-1.12zM9 11h1.12v1.12h-1.12zM11 11h1.12v1.12h-1.12zM16 11h1.12v1.12h-1.12zM4 12h1.12v1.12h-1.12zM10 12h2.12v1.12h-2.12zM13 12h2.12v1.12h-2.12zM7 13h1.12v1.12h-1.12zM9 13h1.12v1.12h-1.12zM16 13h1.12v1.12h-1.12zM8 14h1.12v1.12h-1.12zM3 15h1.12v1.12h-1.12zM7 16h1.12v1.12h-1.12zM16 17h1.12v1.12h-1.12z"/>
<path fill="#80ff80" d="M4 .9h1.12v1.22h-1.12zM6 .9h1.12v1.22h-1.12zM2 2h1.12v1.12h-1.12zM2 3h1.12v1.12h-1.12zM6 3h2.12v1.12h-2.12zM9 3h2.12v1.12h-2.12zM13 3h1.12v1.12h-1.12zM15 3h1.12v1.12h-1.12zM6 4h4.12v1.12h-4.12zM12 4h4.12v1.12h-4.12zM5 5h2.12v1.12h-2.12zM12 5h1.12v1.12h-1.12zM14 5h1.12v1.12h-1.12zM6 6h2.12v1.12h-2.12zM13 6h1.12v1.12h-1.12zM15 6h1.12v1.12h-1.12zM4 7h1.12v1.12h-1.12zM7 7h1.12v1.12h-1.12zM13 7h1.12v1.12h-1.12zM3 8h2.12v1.12h-2.12zM12 8h1.12v1.12h-1.12zM4 9h2.12v1.12h-2.12zM12 9h2.12v1.12h-2.12zM4 10h2.12v1.12h-2.12zM7 10h1.12v1.12h-1.12zM9 10h1.12v1.12h-1.12zM6 11h2.12v1.12h-2.12z"/>
<path fill="#f0f0f2" d="M0 2h2.12v1.12h-2.12zM12 2h1.12v1.12h-1.12zM18 12h1.12v1.12h-1.12zM0 13h2.12v1.12h-2.12zM0 14h2.12v1.12h-2.12zM19 14h2.12v1.12h-2.12zM0 15h2.12v1.12h-2.12zM14 16h1.12v1.12h-1.12zM19 16h2.12v1.12h-2.12zM1 17h2.12v1.12h-2.12zM5 17h1.12v1.12h-1.12zM7 17h1.12v1.12h-1.12zM13 17h1.12v1.12h-1.12zM18 17h3.12v1.12h-3.12z"/>
<path fill="#0080ff" d="M0 3h2.12v1.12h-2.12zM18 5h1.12v1.12h-1.12zM4 6h1.12v1.12h-1.12zM17 6h4.12v1.12h-4.12zM19 7h2.12v1.12h-2.12zM18 8h1.12v1.12h-1.12zM1 9h1.12v1.12h-1.12zM17 9h4.12v1.12h-4.12zM1 10h2.12v1.12h-2.12zM6 10h1.12v1.12h-1.12zM11 10h1.12v1.12h-1.12zM1 11h3.12v1.12h-3.12zM14 11h1.12v1.12h-1.12zM17 11h1.12v1.12h-1.12zM19 11h2.12v1.12h-2.12zM1 12h1.12v1.12h-1.12zM15 12h3.12v1.12h-3.12zM2 13h2.12v1.12h-2.12zM10 13h2.12v1.12h-2.12zM19 13h2.12v1.12h-2.12zM3 14h3.12v1.12h-3.12zM11 14h1.12v1.12h-1.12zM13 14h1.12v1.12h-1.12zM16 14h1.12v1.12h-1.12zM8 15h1.12v1.12h-1.12zM12 15h1.12v1.12h-1.12zM3 16h2.12v1.12h-2.12zM6 16h1.12v1.12h-1.12zM12 16h2.12v1.12h-2.12z"/>
<path fill="#ffff00" d="M14 3h1.12v1.12h-1.12zM8 5h1.12v1.12h-1.12zM15 5h1.12v1.12h-1.12zM8 6h1.12v1.12h-1.12zM6 7h1.12v1.12h-1.12zM10 7h2.12v1.12h-2.12zM8 9h1.12v1.12h-1.12zM11 9h1.12v1.12h-1.12z"/>
<path fill="#bfff40" d="M3 4h1.12v1.12h-1.12zM10 4h1.12v1.12h-1.12zM4 5h1.12v1.12h-1.12zM9 6h1.12v1.12h-1.12zM12 6h1.12v1.12h-1.12zM5 7h1.12v1.12h-1.12zM8 7h2.12v1.12h-2.12zM12 7h1.12v1.12h-1.12zM5 8h2.12v1.12h-2.12zM8 8h1.12v1.12h-1.12zM10 9h1.12v1.12h-1.12zM8 10h1.12v1.12h-1.12zM7 12h2.12v1.12h-2.12z"/>
<path fill="#ffbf00" d="M11 4h1.12v1.12h-1.12zM9 5h1.12v1.12h-1.12zM10 6h2.12v1.12h-2.12zM10 8h2.12v1.12h-2.12zM9 9h1.12v1.12h-1.12z"/>
<path fill="#ff8000" d="M10 5h1.12v1.12h-1.12z"/>
<path fill="#ff4000" d="M11 5h1.12v1.12h-1.12zM9 8h1.12v1.12h-1.12z"/>
<path fill="#00bfff" d="M17 5h1.12v1.12h-1.12zM17 7h1.12v1.12h-1.12zM17 8h1.12v1.12h-1.12zM0 9h1.12v1.12h-1.12zM2 9h1.12v1.12h-1.12zM7 9h1.12v1.12h-1.12zM16 9h1.12v1.12h-1.12zM0 10h1.12v1.12h-1.12zM15 10h1.12v1.12h-1.12zM4 11h1.12v1.12h-1.12zM13 11h1.12v1.12h-1.12zM15 11h1.12v1.12h-1.12zM2 12h2.12v1.12h-2.12zM5 12h1.12v1.12h-1.12zM12 12h1.12v1.12h-1.12zM6 13h1.12v1.12h-1.12zM8 13h1.12v1.12h-1.12zM12 13h1.12v1.12h-1.12zM6 14h1.12v1.12h-1.12zM9 14h1.12v1.12h-1.12zM12 14h1.12v1.12h-1.12zM2 15h1.12v1.12h-1.12zM4 15h1.12v1.12h-1.12zM6 15h2.12v1.12h-2.12zM11 15h1.12v1.12h-1.12zM16 15h1.12v1.12h-1.12zM19 15h2.12v1.12h-2.12zM11 16h1.12v1.12h-1.12zM16 16h1.12v1.12h-1.12zM6 17h1.12v1.12h-1.12zM11 17h1.12v1.12h-1.12z"/>
<path fill="#0040ff" d="M19 5h2.12v1.12h-2.12zM18 7h1.12v1.12h-1.12zM18 10h3.12v1.12h-3.12zM0 12h1.12v1.12h-1.12zM19 12h2.12v1.12h-2.12zM4 13h1.12v1.12h-1.12zM13 13h2.12v1.12h-2.12zM17 13h1.12v1.12h-1.12zM2 14h1.12v1.12h-1.12zM7 14h1.12v1.12h-1.12zM10 14h1.12v1.12h-1.12zM15 14h1.12v1.12h-1.12zM17 14h1.12v1.12h-1.12zM5 15h1.12v1.12h-1.12zM9 15h1.12v1.12h-1.12zM17 15h1.12v1.12h-1.12zM17 16h1.12v1.12h-1.12zM9 17h1.12v1.12h-1.12zM12 17h1.12v1.12h-1.12zM17 17h1.12v1.12h-1.12zM17 18h1.12v1.12h-1.12z"/>
<path fill="#000084" d="M17 10h1.12v1.12h-1.12zM15 17h1.12v1.12h-1.12z"/>
<path fill="#0000c2" d="M18 11h1.12v1.12h-1.12zM10 15h1.12v1.12h-1.12zM14 15h2.12v1.12h-2.12zM8 16h1.12v1.12h-1.12zM10 16h1.12v1.12h-1.12zM15 16h1.12v1.12h-1.12zM8 17h1.12v1.12h-1.12z"/>
<path fill="#0000ff" d="M5 13h1.12v1.12h-1.12zM15 13h1.12v1.12h-1.12zM18 13h1.12v1.12h-1.12zM14 14h1.12v1.12h-1.12zM18 14h1.12v1.12h-1.12zM13 15h1.12v1.12h-1.12zM18 15h1.12v1.12h-1.12zM2 16h1.12v1.12h-1.12zM5 16h1.12v1.12h-1.12zM9 16h1.12v1.12h-1.12zM18 16h1.12v1.12h-1.12zM10 17h1.12v1.12h-1.12zM14 17h1.12v1.12h-1.12zM8 18h1.12v1.12h-1.12zM14 18h1.12v1.12h-1.12z"/>
<path fill="#00000a" d="M0 16h2.12v1.12h-2.12z"/>
<path fill="#dedee0" d="M0 17h1.12v1.12h-1.12z"/>
</g></g></g>
<clipPath id="cb2"><rect x="253.30" y="232.30" width="86.00" height="86.60"/></clipPath>
<g clip-path="url(#cb2)"><g filter="url(#bl)"><g transform="translate(251.94,232.02) scale(4.305,4.6)">
<path fill="#40ffbf" d="M0 .9h2.12v1.22h-2.12zM6 .9h2.12v1.22h-2.12zM2 3h1.12v1.12h-1.12zM5 3h1.12v1.12h-1.12zM5 4h1.12v1.12h-1.12zM12 4h1.12v1.12h-1.12zM17 4h1.12v1.12h-1.12zM2 5h2.12v1.12h-2.12zM14 5h1.12v1.12h-1.12zM18 5h1.12v1.12h-1.12zM4 6h2.12v1.12h-2.12zM14 6h1.12v1.12h-1.12zM0 7h1.12v1.12h-1.12zM4 7h3.12v1.12h-3.12zM13 7h1.12v1.12h-1.12zM0 8h1.12v1.12h-1.12zM4 8h1.12v1.12h-1.12zM6 8h1.12v1.12h-1.12zM8 8h1.12v1.12h-1.12zM13 8h1.12v1.12h-1.12zM9 9h1.12v1.12h-1.12zM12 9h2.12v1.12h-2.12zM13 10h2.12v1.12h-2.12z"/>
<path fill="#0080ff" d="M2 .9h1.12v1.22h-1.12zM5 2h2.12v1.12h-2.12zM0 5h1.12v1.12h-1.12zM2 6h2.12v1.12h-2.12zM16 6h1.12v1.12h-1.12zM19 6h2.12v1.12h-2.12zM1 7h2.12v1.12h-2.12zM15 7h2.12v1.12h-2.12zM1 8h2.12v1.12h-2.12zM16 8h1.12v1.12h-1.12zM1 9h1.12v1.12h-1.12zM16 9h1.12v1.12h-1.12zM4 10h2.12v1.12h-2.12zM16 10h2.12v1.12h-2.12zM2 11h3.12v1.12h-3.12zM6 11h4.12v1.12h-4.12zM13 11h2.12v1.12h-2.12zM16 11h1.12v1.12h-1.12zM6 12h1.12v1.12h-1.12zM10 12h2.12v1.12h-2.12zM13 12h3.12v1.12h-3.12zM17 12h1.12v1.12h-1.12zM7 13h2.12v1.12h-2.12zM11 13h1.12v1.12h-1.12zM6 16h1.12v1.12h-1.12z"/>
<path fill="#80ff80" d="M3 .9h1.12v1.22h-1.12zM8 2h1.12v1.12h-1.12zM3 3h2.12v1.12h-2.12zM6 3h3.12v1.12h-3.12zM3 4h2.12v1.12h-2.12zM7 4h1.12v1.12h-1.12zM9 4h2.12v1.12h-2.12zM15 4h2.12v1.12h-2.12zM6 5h1.12v1.12h-1.12zM9 5h1.12v1.12h-1.12zM13 5h1.12v1.12h-1.12zM6 6h4.12v1.12h-4.12zM13 6h1.12v1.12h-1.12zM7 7h3.12v1.12h-3.12zM12 7h1.12v1.12h-1.12zM5 8h1.12v1.12h-1.12zM12 8h1.12v1.12h-1.12zM10 10h1.12v1.12h-1.12z"/>
<path fill="#00bfff" d="M4 .9h2.12v1.22h-2.12zM19 5h2.12v1.12h-2.12zM3 7h1.12v1.12h-1.12zM15 8h1.12v1.12h-1.12zM0 9h1.12v1.12h-1.12zM17 9h1.12v1.12h-1.12zM3 10h1.12v1.12h-1.12zM7 10h1.12v1.12h-1.12zM10 11h1.12v1.12h-1.12zM12 11h1.12v1.12h-1.12zM15 11h1.12v1.12h-1.12zM17 11h1.12v1.12h-1.12zM7 12h2.12v1.12h-2.12zM12 12h1.12v1.12h-1.12zM12 13h1.12v1.12h-1.12zM12 14h1.12v1.12h-1.12zM7 17h1.12v1.12h-1.12zM15 17h1.12v1.12h-1.12zM5 18h1.12v1.12h-1.12z"/>
<path fill="#f0f0f2" d="M0 2h3.12v1.12h-3.12zM0 16h1.12v1.12h-1.12zM0 17h1.12v1.12h-1.12zM2 17h1.12v1.12h-1.12zM0 18h3.12v1.12h-3.12z"/>
<path fill="#00ffff" d="M3 2h1.12v1.12h-1.12zM11 2h1.12v1.12h-1.12zM1 3h1.12v1.12h-1.12zM1 4h2.12v1.12h-2.12zM8 4h1.12v1.12h-1.12zM18 4h3.12v1.12h-3.12zM1 5h1.12v1.12h-1.12zM4 5h2.12v1.12h-2.12zM15 5h3.12v1.12h-3.12zM0 6h2.12v1.12h-2.12zM10 6h1.12v1.12h-1.12zM15 6h1.12v1.12h-1.12zM14 7h1.12v1.12h-1.12zM3 8h1.12v1.12h-1.12zM7 8h1.12v1.12h-1.12zM14 8h1.12v1.12h-1.12zM4 9h5.12v1.12h-5.12zM14 9h2.12v1.12h-2.12zM6 10h1.12v1.12h-1.12zM8 10h2.12v1.12h-2.12zM11 10h2.12v1.12h-2.12zM15 10h1.12v1.12h-1.12zM5 11h1.12v1.12h-1.12zM11 11h1.12v1.12h-1.12zM0 12h1.12v1.12h-1.12zM9 18h1.12v1.12h-1.12z"/>
<path fill="#ffff00" d="M4 2h1.12v1.12h-1.12zM10 7h1.12v1.12h-1.12zM10 8h2.12v1.12h-2.12zM10 9h2.12v1.12h-2.12z"/>
<path fill="#0040ff" d="M7 2h1.12v1.12h-1.12zM12 2h1.12v1.12h-1.12zM0 3h1.12v1.12h-1.12zM17 6h2.12v1.12h-2.12zM18 7h3.12v1.12h-3.12zM19 8h2.12v1.12h-2.12zM3 9h1.12v1.12h-1.12zM18 9h3.12v1.12h-3.12zM0 10h3.12v1.12h-3.12zM18 10h3.12v1.12h-3.12zM0 11h2.12v1.12h-2.12zM18 11h3.12v1.12h-3.12zM2 12h4.12v1.12h-4.12zM9 12h1.12v1.12h-1.12zM18 12h3.12v1.12h-3.12z"/>
<path fill="#bfff40" d="M9 2h2.12v1.12h-2.12zM9 3h8.12v1.12h-8.12zM6 4h1.12v1.12h-1.12zM11 4h1.12v1.12h-1.12zM13 4h2.12v1.12h-2.12zM7 5h2.12v1.12h-2.12zM10 5h3.12v1.12h-3.12zM11 6h2.12v1.12h-2.12zM11 7h1.12v1.12h-1.12zM9 8h1.12v1.12h-1.12z"/>
<path fill="#0000ff" d="M0 4h1.12v1.12h-1.12zM17 7h1.12v1.12h-1.12zM17 8h2.12v1.12h-2.12zM2 9h1.12v1.12h-1.12zM16 12h1.12v1.12h-1.12zM6 13h1.12v1.12h-1.12zM9 13h1.12v1.12h-1.12zM13 13h1.12v1.12h-1.12zM15 13h1.12v1.12h-1.12zM2 14h1.12v1.12h-1.12zM7 14h2.12v1.12h-2.12zM11 14h1.12v1.12h-1.12zM14 14h1.12v1.12h-1.12zM2 15h1.12v1.12h-1.12zM8 15h2.12v1.12h-2.12zM11 15h1.12v1.12h-1.12zM12 17h1.12v1.12h-1.12z"/>
<path fill="#0000c2" d="M1 12h1.12v1.12h-1.12zM0 13h3.12v1.12h-3.12zM4 13h2.12v1.12h-2.12zM10 13h1.12v1.12h-1.12zM14 13h1.12v1.12h-1.12zM16 13h5.12v1.12h-5.12zM1 14h1.12v1.12h-1.12zM3 14h2.12v1.12h-2.12zM6 14h1.12v1.12h-1.12zM13 14h1.12v1.12h-1.12zM15 14h1.12v1.12h-1.12zM17 14h4.12v1.12h-4.12zM3 15h2.12v1.12h-2.12zM6 15h1.12v1.12h-1.12zM10 15h1.12v1.12h-1.12zM12 15h1.12v1.12h-1.12zM14 15h2.12v1.12h-2.12zM17 15h1.12v1.12h-1.12zM19 15h2.12v1.12h-2.12zM3 16h3.12v1.12h-3.12zM7 16h1.12v1.12h-1.12zM10 16h2.12v1.12h-2.12zM13 16h1.12v1.12h-1.12zM15 16h3.12v1.12h-3.12zM19 16h2.12v1.12h-2.12zM3 17h2.12v1.12h-2.12zM8 17h4.12v1.12h-4.12zM13 17h2.12v1.12h-2.12zM16 17h2.12v1.12h-2.12zM19 17h2.12v1.12h-2.12zM3 18h2.12v1.12h-2.12zM6 18h1.12v1.12h-1.12zM10 18h1.12v1.12h-1.12zM12 18h5.12v1.12h-5.12zM19 18h2.12v1.12h-2.12z"/>
<path fill="#000084" d="M3 13h1.12v1.12h-1.12zM0 14h1.12v1.12h-1.12zM5 14h1.12v1.12h-1.12zM9 14h2.12v1.12h-2.12zM16 14h1.12v1.12h-1.12zM0 15h2.12v1.12h-2.12zM5 15h1.12v1.12h-1.12zM7 15h1.12v1.12h-1.12zM13 15h1.12v1.12h-1.12zM16 15h1.12v1.12h-1.12zM18 15h1.12v1.12h-1.12zM1 16h2.12v1.12h-2.12zM8 16h2.12v1.12h-2.12zM12 16h1.12v1.12h-1.12zM14 16h1.12v1.12h-1.12zM18 16h1.12v1.12h-1.12z"/>
<path fill="#00000a" d="M1 17h1.12v1.12h-1.12zM18 17h1.12v1.12h-1.12z"/>
</g></g></g>
<clipPath id="cb3"><rect x="339.30" y="232.30" width="87.90" height="86.60"/></clipPath>
<g clip-path="url(#cb3)"><g filter="url(#bl)"><g transform="translate(339.24,232.02) scale(4.305,4.6)">
<path fill="#f0f0f2" d="M0 .9h1.12v1.22h-1.12zM0 2h2.12v1.12h-2.12zM12 2h1.12v1.12h-1.12zM2 16h1.12v1.12h-1.12zM1 17h2.12v1.12h-2.12zM18 17h1.12v1.12h-1.12z"/>
<path fill="#0000c2" d="M1 .9h1.12v1.22h-1.12zM3 .9h1.12v1.22h-1.12zM5 .9h1.12v1.22h-1.12zM2 2h2.12v1.12h-2.12zM6 2h1.12v1.12h-1.12zM0 7h1.12v1.12h-1.12zM0 8h1.12v1.12h-1.12zM0 9h1.12v1.12h-1.12zM0 10h1.12v1.12h-1.12zM4 10h1.12v1.12h-1.12zM16 10h1.12v1.12h-1.12zM19 10h2.12v1.12h-2.12zM1 11h1.12v1.12h-1.12zM3 11h2.12v1.12h-2.12zM7 11h2.12v1.12h-2.12zM15 11h4.12v1.12h-4.12zM1 12h2.12v1.12h-2.12zM4 12h4.12v1.12h-4.12zM9 12h1.12v1.12h-1.12zM13 12h3.12v1.12h-3.12zM2 13h1.12v1.12h-1.12zM5 13h1.12v1.12h-1.12zM10 13h2.12v1.12h-2.12zM6 14h1.12v1.12h-1.12zM11 14h1.12v1.12h-1.12zM15 14h1.12v1.12h-1.12zM2 15h2.12v1.12h-2.12zM7 15h1.12v1.12h-1.12zM10 15h1.12v1.12h-1.12zM13 15h2.12v1.12h-2.12zM6 16h1.12v1.12h-1.12zM10 16h3.12v1.12h-3.12zM11 17h1.12v1.12h-1.12z"/>
<path fill="#000084" d="M2 .9h1.12v1.22h-1.12zM4 .9h1.12v1.22h-1.12zM2 5h2.12v1.12h-2.12zM0 11h1.12v1.12h-1.12zM2 11h1.12v1.12h-1.12zM19 11h2.12v1.12h-2.12zM0 12h1.12v1.12h-1.12zM3 12h1.12v1.12h-1.12zM8 12h1.12v1.12h-1.12zM12 12h1.12v1.12h-1.12zM16 12h5.12v1.12h-5.12zM0 13h2.12v1.12h-2.12zM3 13h2.12v1.12h-2.12zM6 13h4.12v1.12h-4.12zM12 13h2.12v1.12h-2.12zM15 13h6.12v1.12h-6.12zM1 14h3.12v1.12h-3.12zM5 14h1.12v1.12h-1.12zM7 14h3.12v1.12h-3.12zM12 14h3.12v1.12h-3.12zM16 14h2.12v1.12h-2.12zM19 14h2.12v1.12h-2.12zM1 15h1.12v1.12h-1.12zM4 15h1.12v1.12h-1.12zM6 15h1.12v1.12h-1.12zM8 15h2.12v1.12h-2.12zM11 15h1.12v1.12h-1.12zM15 15h4.12v1.12h-4.12zM5 16h1.12v1.12h-1.12zM7 16h1.12v1.12h-1.12zM9 16h1.12v1.12h-1.12zM13 16h1.12v1.12h-1.12zM15 16h3.12v1.12h-3.12zM6 17h3.12v1.12h-3.12zM12 17h1.12v1.12h-1.12zM14 17h2.12v1.12h-2.12zM17 17h1.12v1.12h-1.12zM11 18h1.12v1.12h-1.12zM14 18h1.12v1.12h-1.12z"/>
<path fill="#0000ff" d="M6 .9h2.12v1.22h-2.12zM4 2h1.12v1.12h-1.12zM2 3h1.12v1.12h-1.12zM4 3h1.12v1.12h-1.12zM5 4h1.12v1.12h-1.12zM1 5h1.12v1.12h-1.12zM0 6h2.12v1.12h-2.12zM5 7h1.12v1.12h-1.12zM5 8h1.12v1.12h-1.12zM1 9h2.12v1.12h-2.12zM16 9h5.12v1.12h-5.12zM1 10h3.12v1.12h-3.12zM17 10h2.12v1.12h-2.12zM5 11h2.12v1.12h-2.12zM12 11h1.12v1.12h-1.12zM10 12h2.12v1.12h-2.12zM10 14h1.12v1.12h-1.12zM8 16h1.12v1.12h-1.12zM10 17h1.12v1.12h-1.12zM4 18h3.12v1.12h-3.12zM10 18h1.12v1.12h-1.12z"/>
<path fill="#00bfff" d="M5 2h1.12v1.12h-1.12zM8 2h2.12v1.12h-2.12zM5 3h1.12v1.12h-1.12zM3 4h1.12v1.12h-1.12zM6 4h1.12v1.12h-1.12zM17 4h1.12v1.12h-1.12zM6 5h1.12v1.12h-1.12zM15 5h2.12v1.12h-2.12zM18 5h1.12v1.12h-1.12zM4 6h1.12v1.12h-1.12zM16 6h1.12v1.12h-1.12zM6 7h1.12v1.12h-1.12zM4 8h1.12v1.12h-1.12zM6 9h3.12v1.12h-3.12zM13 9h1.12v1.12h-1.12zM8 10h1.12v1.12h-1.12zM11 10h1.12v1.12h-1.12z"/>
<path fill="#0040ff" d="M7 2h1.12v1.12h-1.12zM11 2h1.12v1.12h-1.12zM0 4h1.12v1.12h-1.12zM0 5h1.12v1.12h-1.12zM2 6h1.12v1.12h-1.12zM1 7h2.12v1.12h-2.12zM17 7h2.12v1.12h-2.12zM1 8h2.12v1.12h-2.12zM6 8h1.12v1.12h-1.12zM17 8h4.12v1.12h-4.12zM5 9h1.12v1.12h-1.12zM15 9h1.12v1.12h-1.12zM5 10h2.12v1.12h-2.12zM15 10h1.12v1.12h-1.12zM9 11h3.12v1.12h-3.12zM13 11h2.12v1.12h-2.12z"/>
<path fill="#40ffbf" d="M10 2h1.12v1.12h-1.12zM11 3h1.12v1.12h-1.12zM13 3h1.12v1.12h-1.12zM16 3h1.12v1.12h-1.12zM12 4h2.12v1.12h-2.12zM15 4h2.12v1.12h-2.12zM8 5h1.12v1.12h-1.12zM12 5h2.12v1.12h-2.12zM8 6h1.12v1.12h-1.12zM8 8h1.12v1.12h-1.12zM12 8h1.12v1.12h-1.12zM10 9h3.12v1.12h-3.12z"/>
<path fill="#0080ff" d="M0 3h1.12v1.12h-1.12zM3 3h1.12v1.12h-1.12zM1 4h2.12v1.12h-2.12zM18 4h3.12v1.12h-3.12zM4 5h2.12v1.12h-2.12zM17 5h1.12v1.12h-1.12zM19 5h2.12v1.12h-2.12zM14 6h2.12v1.12h-2.12zM17 6h4.12v1.12h-4.12zM14 7h1.12v1.12h-1.12zM16 7h1.12v1.12h-1.12zM19 7h2.12v1.12h-2.12zM3 8h1.12v1.12h-1.12zM15 8h2.12v1.12h-2.12zM3 9h2.12v1.12h-2.12zM14 9h1.12v1.12h-1.12zM7 10h1.12v1.12h-1.12zM9 10h1.12v1.12h-1.12zM13 10h2.12v1.12h-2.12z"/>
<path fill="#00ffff" d="M1 3h1.12v1.12h-1.12zM6 3h2.12v1.12h-2.12zM4 4h1.12v1.12h-1.12zM7 4h1.12v1.12h-1.12zM7 5h1.12v1.12h-1.12zM14 5h1.12v1.12h-1.12zM3 6h1.12v1.12h-1.12zM5 6h3.12v1.12h-3.12zM13 6h1.12v1.12h-1.12zM3 7h2.12v1.12h-2.12zM7 7h1.12v1.12h-1.12zM13 7h1.12v1.12h-1.12zM15 7h1.12v1.12h-1.12zM7 8h1.12v1.12h-1.12zM13 8h2.12v1.12h-2.12zM9 9h1.12v1.12h-1.12zM12 10h1.12v1.12h-1.12z"/>
<path fill="#bfff40" d="M8 3h1.12v1.12h-1.12zM10 3h1.12v1.12h-1.12zM11 6h1.12v1.12h-1.12zM9 7h1.12v1.12h-1.12zM10 8h1.12v1.12h-1.12z"/>
<path fill="#80ff80" d="M9 3h1.12v1.12h-1.12zM12 3h1.12v1.12h-1.12zM14 3h2.12v1.12h-2.12zM8 4h4.12v1.12h-4.12zM14 4h1.12v1.12h-1.12zM9 5h2.12v1.12h-2.12zM9 6h2.12v1.12h-2.12zM12 6h1.12v1.12h-1.12zM8 7h1.12v1.12h-1.12zM9 8h1.12v1.12h-1.12zM11 8h1.12v1.12h-1.12zM10 10h1.12v1.12h-1.12z"/>
<path fill="#ffff00" d="M11 5h1.12v1.12h-1.12zM12 7h1.12v1.12h-1.12z"/>
<path fill="#ff8000" d="M10 7h1.12v1.12h-1.12z"/>
<path fill="#ffbf00" d="M11 7h1.12v1.12h-1.12z"/>
<path fill="#00000a" d="M14 13h1.12v1.12h-1.12zM4 14h1.12v1.12h-1.12zM18 14h1.12v1.12h-1.12zM5 15h1.12v1.12h-1.12zM12 15h1.12v1.12h-1.12zM4 16h1.12v1.12h-1.12zM14 16h1.12v1.12h-1.12zM18 16h1.12v1.12h-1.12zM5 17h1.12v1.12h-1.12zM9 17h1.12v1.12h-1.12zM13 17h1.12v1.12h-1.12zM16 17h1.12v1.12h-1.12zM9 18h1.12v1.12h-1.12z"/>
</g></g></g>
<clipPath id="cb4"><rect x="427.20" y="232.30" width="86.70" height="86.60"/></clipPath>
<g clip-path="url(#cb4)"><g filter="url(#bl)"><g transform="translate(425.44,232.02) scale(4.305,4.6)">
<path fill="#0000c2" d="M0 .9h2.12v1.22h-2.12zM3 .9h1.12v1.22h-1.12zM0 8h1.12v1.12h-1.12zM0 10h1.12v1.12h-1.12zM2 10h1.12v1.12h-1.12zM15 10h1.12v1.12h-1.12zM1 11h2.12v1.12h-2.12zM16 11h1.12v1.12h-1.12zM18 11h1.12v1.12h-1.12zM2 12h3.12v1.12h-3.12zM14 12h1.12v1.12h-1.12zM16 12h2.12v1.12h-2.12zM3 13h1.12v1.12h-1.12zM5 13h1.12v1.12h-1.12zM11 13h1.12v1.12h-1.12zM16 13h1.12v1.12h-1.12zM3 14h1.12v1.12h-1.12zM5 14h1.12v1.12h-1.12zM8 14h3.12v1.12h-3.12zM12 14h2.12v1.12h-2.12zM5 15h1.12v1.12h-1.12zM8 15h1.12v1.12h-1.12zM10 15h1.12v1.12h-1.12zM12 15h2.12v1.12h-2.12zM10 16h1.12v1.12h-1.12zM12 16h2.12v1.12h-2.12zM16 16h1.12v1.12h-1.12zM1 18h2.12v1.12h-2.12z"/>
<path fill="#0000ff" d="M2 .9h1.12v1.22h-1.12zM0 7h2.12v1.12h-2.12zM1 8h1.12v1.12h-1.12zM17 8h1.12v1.12h-1.12zM0 9h1.12v1.12h-1.12zM17 9h1.12v1.12h-1.12zM1 10h1.12v1.12h-1.12zM3 10h3.12v1.12h-3.12zM11 10h1.12v1.12h-1.12zM14 10h1.12v1.12h-1.12zM16 10h3.12v1.12h-3.12zM3 11h3.12v1.12h-3.12zM11 11h1.12v1.12h-1.12zM13 11h2.12v1.12h-2.12zM6 12h1.12v1.12h-1.12zM10 12h1.12v1.12h-1.12zM12 12h2.12v1.12h-2.12zM2 13h1.12v1.12h-1.12zM7 13h4.12v1.12h-4.12zM12 13h2.12v1.12h-2.12zM6 14h2.12v1.12h-2.12zM5 16h1.12v1.12h-1.12zM8 16h1.12v1.12h-1.12zM14 16h1.12v1.12h-1.12zM4 18h1.12v1.12h-1.12zM9 18h1.12v1.12h-1.12z"/>
<path fill="#00000a" d="M4 .9h2.12v1.22h-2.12zM15 11h1.12v1.12h-1.12zM0 12h1.12v1.12h-1.12zM15 12h1.12v1.12h-1.12zM19 13h2.12v1.12h-2.12zM2 14h1.12v1.12h-1.12zM4 14h1.12v1.12h-1.12zM11 14h1.12v1.12h-1.12zM1 15h3.12v1.12h-3.12zM6 15h2.12v1.12h-2.12zM9 15h1.12v1.12h-1.12zM11 15h1.12v1.12h-1.12zM16 15h1.12v1.12h-1.12zM11 16h1.12v1.12h-1.12zM17 16h1.12v1.12h-1.12zM7 17h1.12v1.12h-1.12zM11 17h1.12v1.12h-1.12zM14 17h2.12v1.12h-2.12zM18 17h1.12v1.12h-1.12zM12 18h1.12v1.12h-1.12z"/>
<path fill="#0080ff" d="M6 .9h1.12v1.22h-1.12zM0 2h2.12v1.12h-2.12zM7 2h1.12v1.12h-1.12zM0 4h1.12v1.12h-1.12zM5 4h1.12v1.12h-1.12zM17 5h2.12v1.12h-2.12zM4 6h1.12v1.12h-1.12zM2 7h2.12v1.12h-2.12zM18 7h3.12v1.12h-3.12zM3 8h2.12v1.12h-2.12zM13 8h4.12v1.12h-4.12zM18 8h1.12v1.12h-1.12zM5 9h1.12v1.12h-1.12zM12 9h1.12v1.12h-1.12zM12 10h1.12v1.12h-1.12zM6 11h2.12v1.12h-2.12zM9 11h1.12v1.12h-1.12zM7 12h1.12v1.12h-1.12zM11 12h1.12v1.12h-1.12z"/>
<path fill="#f0f0f2" d="M7 .9h1.12v1.22h-1.12zM12 2h1.12v1.12h-1.12zM19 10h2.12v1.12h-2.12zM17 11h1.12v1.12h-1.12zM19 11h2.12v1.12h-2.12zM18 12h3.12v1.12h-3.12zM15 13h1.12v1.12h-1.12zM17 13h2.12v1.12h-2.12zM15 14h1.12v1.12h-1.12zM17 14h1.12v1.12h-1.12zM19 14h2.12v1.12h-2.12zM15 15h1.12v1.12h-1.12zM19 15h2.12v1.12h-2.12zM2 16h2.12v1.12h-2.12zM15 16h1.12v1.12h-1.12zM16 17h1.12v1.12h-1.12zM19 17h2.12v1.12h-2.12z"/>
<path fill="#00bfff" d="M2 2h1.12v1.12h-1.12zM9 2h3.12v1.12h-3.12zM5 3h1.12v1.12h-1.12zM1 4h1.12v1.12h-1.12zM3 4h1.12v1.12h-1.12zM1 5h2.12v1.12h-2.12zM16 5h1.12v1.12h-1.12zM19 5h2.12v1.12h-2.12zM15 6h4.12v1.12h-4.12zM5 7h1.12v1.12h-1.12zM15 7h3.12v1.12h-3.12zM6 9h1.12v1.12h-1.12zM11 9h1.12v1.12h-1.12zM9 10h2.12v1.12h-2.12zM10 11h1.12v1.12h-1.12z"/>
<path fill="#00ffff" d="M3 2h2.12v1.12h-2.12zM6 2h1.12v1.12h-1.12zM0 3h1.12v1.12h-1.12zM4 3h1.12v1.12h-1.12zM12 3h1.12v1.12h-1.12zM14 3h3.12v1.12h-3.12zM2 4h1.12v1.12h-1.12zM4 4h1.12v1.12h-1.12zM15 4h6.12v1.12h-6.12zM0 5h1.12v1.12h-1.12zM3 5h3.12v1.12h-3.12zM15 5h1.12v1.12h-1.12zM0 6h4.12v1.12h-4.12zM5 6h1.12v1.12h-1.12zM14 6h1.12v1.12h-1.12zM4 7h1.12v1.12h-1.12zM13 7h1.12v1.12h-1.12zM5 8h1.12v1.12h-1.12zM12 8h1.12v1.12h-1.12zM7 9h2.12v1.12h-2.12zM10 9h1.12v1.12h-1.12zM7 10h2.12v1.12h-2.12z"/>
<path fill="#80ff80" d="M5 2h1.12v1.12h-1.12zM8 3h3.12v1.12h-3.12zM8 4h2.12v1.12h-2.12zM11 4h2.12v1.12h-2.12zM7 6h1.12v1.12h-1.12zM6 8h1.12v1.12h-1.12zM8 8h2.12v1.12h-2.12zM9 9h1.12v1.12h-1.12z"/>
<path fill="#40ffbf" d="M8 2h1.12v1.12h-1.12zM1 3h2.12v1.12h-2.12zM6 3h2.12v1.12h-2.12zM11 3h1.12v1.12h-1.12zM13 3h1.12v1.12h-1.12zM6 4h2.12v1.12h-2.12zM13 4h2.12v1.12h-2.12zM6 5h1.12v1.12h-1.12zM10 5h1.12v1.12h-1.12zM13 5h2.12v1.12h-2.12zM6 6h1.12v1.12h-1.12zM13 6h1.12v1.12h-1.12zM6 7h1.12v1.12h-1.12zM10 8h2.12v1.12h-2.12z"/>
<path fill="#bfff40" d="M3 3h1.12v1.12h-1.12zM10 4h1.12v1.12h-1.12zM7 5h3.12v1.12h-3.12zM11 5h2.12v1.12h-2.12zM8 6h1.12v1.12h-1.12zM10 6h3.12v1.12h-3.12zM7 7h1.12v1.12h-1.12zM10 7h3.12v1.12h-3.12zM7 8h1.12v1.12h-1.12z"/>
<path fill="#ffbf00" d="M9 6h1.12v1.12h-1.12z"/>
<path fill="#0040ff" d="M19 6h2.12v1.12h-2.12zM14 7h1.12v1.12h-1.12zM2 8h1.12v1.12h-1.12zM19 8h2.12v1.12h-2.12zM1 9h4.12v1.12h-4.12zM13 9h4.12v1.12h-4.12zM18 9h3.12v1.12h-3.12zM6 10h1.12v1.12h-1.12zM13 10h1.12v1.12h-1.12zM8 11h1.12v1.12h-1.12zM12 11h1.12v1.12h-1.12zM8 12h2.12v1.12h-2.12zM6 13h1.12v1.12h-1.12z"/>
<path fill="#ffff00" d="M8 7h2.12v1.12h-2.12z"/>
<path fill="#000084" d="M0 11h1.12v1.12h-1.12zM1 12h1.12v1.12h-1.12zM5 12h1.12v1.12h-1.12zM0 13h2.12v1.12h-2.12zM4 13h1.12v1.12h-1.12zM14 13h1.12v1.12h-1.12zM0 14h2.12v1.12h-2.12zM14 14h1.12v1.12h-1.12zM16 14h1.12v1.12h-1.12zM18 14h1.12v1.12h-1.12zM14 15h1.12v1.12h-1.12zM17 15h2.12v1.12h-2.12zM6 16h2.12v1.12h-2.12zM9 16h1.12v1.12h-1.12zM18 16h3.12v1.12h-3.12zM8 17h3.12v1.12h-3.12zM12 17h2.12v1.12h-2.12zM17 17h1.12v1.12h-1.12zM6 18h1.12v1.12h-1.12zM19 18h2.12v1.12h-2.12z"/>
</g></g></g>
<clipPath id="cb5"><rect x="513.90" y="232.30" width="87.50" height="86.60"/></clipPath>
<g clip-path="url(#cb5)"><g filter="url(#bl)"><g transform="translate(512.44,232.02) scale(4.305,4.6)">
<path fill="#0000ff" d="M0 .9h2.12v1.22h-2.12zM2 2h2.12v1.12h-2.12zM15 8h2.12v1.12h-2.12zM19 8h2.12v1.12h-2.12zM0 11h1.12v1.12h-1.12zM19 11h2.12v1.12h-2.12zM6 12h1.12v1.12h-1.12zM11 12h1.12v1.12h-1.12zM0 13h3.12v1.12h-3.12zM11 13h1.12v1.12h-1.12zM14 13h2.12v1.12h-2.12zM3 14h1.12v1.12h-1.12zM7 14h1.12v1.12h-1.12zM10 14h1.12v1.12h-1.12zM14 14h2.12v1.12h-2.12zM4 15h2.12v1.12h-2.12zM7 15h2.12v1.12h-2.12zM14 15h1.12v1.12h-1.12zM7 16h2.12v1.12h-2.12zM11 16h1.12v1.12h-1.12zM14 16h1.12v1.12h-1.12zM10 17h1.12v1.12h-1.12zM12 17h3.12v1.12h-3.12zM3 18h3.12v1.12h-3.12zM10 18h1.12v1.12h-1.12z"/>
<path fill="#00ffff" d="M2 .9h1.12v1.22h-1.12zM5 2h1.12v1.12h-1.12zM0 3h2.12v1.12h-2.12zM3 3h1.12v1.12h-1.12zM1 4h1.12v1.12h-1.12zM5 4h1.12v1.12h-1.12zM3 5h1.12v1.12h-1.12zM16 5h3.12v1.12h-3.12zM3 6h2.12v1.12h-2.12zM14 6h2.12v1.12h-2.12zM3 7h1.12v1.12h-1.12zM5 7h1.12v1.12h-1.12zM13 7h2.12v1.12h-2.12zM1 8h1.12v1.12h-1.12zM12 8h1.12v1.12h-1.12zM2 9h1.12v1.12h-1.12zM5 9h1.12v1.12h-1.12zM9 10h2.12v1.12h-2.12zM12 10h1.12v1.12h-1.12zM8 11h1.12v1.12h-1.12zM11 11h2.12v1.12h-2.12zM9 12h2.12v1.12h-2.12zM6 13h1.12v1.12h-1.12zM5 14h1.12v1.12h-1.12zM6 16h1.12v1.12h-1.12z"/>
<path fill="#0080ff" d="M3 .9h2.12v1.22h-2.12zM19 5h2.12v1.12h-2.12zM0 6h1.12v1.12h-1.12zM2 6h1.12v1.12h-1.12zM16 6h2.12v1.12h-2.12zM19 6h2.12v1.12h-2.12zM0 7h2.12v1.12h-2.12zM18 7h1.12v1.12h-1.12zM3 8h2.12v1.12h-2.12zM14 8h1.12v1.12h-1.12zM1 9h1.12v1.12h-1.12zM4 9h1.12v1.12h-1.12zM13 9h1.12v1.12h-1.12zM4 10h1.12v1.12h-1.12zM6 10h1.12v1.12h-1.12zM13 10h1.12v1.12h-1.12zM5 11h3.12v1.12h-3.12zM2 12h3.12v1.12h-3.12zM8 12h1.12v1.12h-1.12zM12 12h1.12v1.12h-1.12zM3 13h3.12v1.12h-3.12zM4 14h1.12v1.12h-1.12zM6 15h1.12v1.12h-1.12zM15 16h1.12v1.12h-1.12z"/>
<path fill="#00bfff" d="M5 .9h3.12v1.22h-3.12zM4 2h1.12v1.12h-1.12zM0 4h1.12v1.12h-1.12zM4 4h1.12v1.12h-1.12zM2 5h1.12v1.12h-1.12zM4 5h2.12v1.12h-2.12zM7 6h1.12v1.12h-1.12zM18 6h1.12v1.12h-1.12zM2 7h1.12v1.12h-1.12zM12 7h1.12v1.12h-1.12zM2 8h1.12v1.12h-1.12zM12 9h1.12v1.12h-1.12zM5 10h1.12v1.12h-1.12zM9 11h2.12v1.12h-2.12zM13 12h1.12v1.12h-1.12zM9 16h2.12v1.12h-2.12z"/>
<path fill="#0000c2" d="M0 2h2.12v1.12h-2.12zM0 10h1.12v1.12h-1.12zM14 11h2.12v1.12h-2.12zM17 11h1.12v1.12h-1.12zM18 12h1.12v1.12h-1.12zM8 13h1.12v1.12h-1.12zM12 13h1.12v1.12h-1.12zM18 13h1.12v1.12h-1.12zM13 14h1.12v1.12h-1.12zM17 14h1.12v1.12h-1.12zM2 15h2.12v1.12h-2.12zM9 15h3.12v1.12h-3.12zM15 15h1.12v1.12h-1.12zM17 15h1.12v1.12h-1.12zM2 16h2.12v1.12h-2.12zM5 16h1.12v1.12h-1.12zM2 17h1.12v1.12h-1.12zM11 17h1.12v1.12h-1.12zM16 17h1.12v1.12h-1.12zM2 18h1.12v1.12h-1.12zM16 18h1.12v1.12h-1.12z"/>
<path fill="#40ffbf" d="M6 2h7.12v1.12h-7.12zM2 3h1.12v1.12h-1.12zM4 3h1.12v1.12h-1.12zM14 3h1.12v1.12h-1.12zM2 4h2.12v1.12h-2.12zM13 4h1.12v1.12h-1.12zM17 4h4.12v1.12h-4.12zM0 5h1.12v1.12h-1.12zM6 5h1.12v1.12h-1.12zM13 5h3.12v1.12h-3.12zM5 6h2.12v1.12h-2.12zM12 6h2.12v1.12h-2.12zM6 7h1.12v1.12h-1.12zM11 7h1.12v1.12h-1.12zM5 8h1.12v1.12h-1.12zM7 8h1.12v1.12h-1.12zM11 8h1.12v1.12h-1.12zM6 9h1.12v1.12h-1.12zM11 9h1.12v1.12h-1.12zM7 10h1.12v1.12h-1.12z"/>
<path fill="#80ff80" d="M5 3h2.12v1.12h-2.12zM8 3h1.12v1.12h-1.12zM12 3h2.12v1.12h-2.12zM15 3h1.12v1.12h-1.12zM6 4h1.12v1.12h-1.12zM11 4h2.12v1.12h-2.12zM15 4h2.12v1.12h-2.12zM1 5h1.12v1.12h-1.12zM7 5h1.12v1.12h-1.12zM11 5h2.12v1.12h-2.12zM8 6h1.12v1.12h-1.12zM11 6h1.12v1.12h-1.12zM4 7h1.12v1.12h-1.12zM7 7h1.12v1.12h-1.12zM6 8h1.12v1.12h-1.12zM8 8h1.12v1.12h-1.12zM7 9h2.12v1.12h-2.12zM11 10h1.12v1.12h-1.12z"/>
<path fill="#ffff00" d="M7 3h1.12v1.12h-1.12zM9 5h1.12v1.12h-1.12zM9 7h2.12v1.12h-2.12zM10 9h1.12v1.12h-1.12z"/>
<path fill="#bfff40" d="M9 3h3.12v1.12h-3.12zM7 4h4.12v1.12h-4.12zM14 4h1.12v1.12h-1.12zM8 5h1.12v1.12h-1.12zM10 5h1.12v1.12h-1.12zM9 6h2.12v1.12h-2.12zM8 7h1.12v1.12h-1.12zM9 8h2.12v1.12h-2.12zM9 9h1.12v1.12h-1.12zM8 10h1.12v1.12h-1.12z"/>
<path fill="#ffbf00" d="M16 3h1.12v1.12h-1.12z"/>
<path fill="#0040ff" d="M1 6h1.12v1.12h-1.12zM15 7h3.12v1.12h-3.12zM19 7h2.12v1.12h-2.12zM0 8h1.12v1.12h-1.12zM13 8h1.12v1.12h-1.12zM17 8h2.12v1.12h-2.12zM0 9h1.12v1.12h-1.12zM3 9h1.12v1.12h-1.12zM14 9h5.12v1.12h-5.12zM2 10h2.12v1.12h-2.12zM14 10h2.12v1.12h-2.12zM17 10h1.12v1.12h-1.12zM2 11h3.12v1.12h-3.12zM13 11h1.12v1.12h-1.12zM0 12h2.12v1.12h-2.12zM5 12h1.12v1.12h-1.12zM7 12h1.12v1.12h-1.12zM7 13h1.12v1.12h-1.12zM9 13h2.12v1.12h-2.12zM6 14h1.12v1.12h-1.12zM8 14h2.12v1.12h-2.12z"/>
<path fill="#f0f0f2" d="M19 9h2.12v1.12h-2.12zM16 10h1.12v1.12h-1.12zM18 10h1.12v1.12h-1.12zM16 11h1.12v1.12h-1.12zM14 12h3.12v1.12h-3.12zM19 12h2.12v1.12h-2.12zM16 13h1.12v1.12h-1.12zM19 13h2.12v1.12h-2.12zM16 14h1.12v1.12h-1.12zM18 14h3.12v1.12h-3.12zM13 15h1.12v1.12h-1.12zM16 15h1.12v1.12h-1.12zM18 15h3.12v1.12h-3.12zM4 16h1.12v1.12h-1.12zM13 16h1.12v1.12h-1.12zM16 16h1.12v1.12h-1.12zM18 16h1.12v1.12h-1.12zM7 17h1.12v1.12h-1.12zM9 17h1.12v1.12h-1.12zM15 17h1.12v1.12h-1.12zM18 17h1.12v1.12h-1.12zM17 18h2.12v1.12h-2.12z"/>
<path fill="#000084" d="M1 10h1.12v1.12h-1.12zM19 10h2.12v1.12h-2.12zM1 11h1.12v1.12h-1.12zM18 11h1.12v1.12h-1.12zM17 12h1.12v1.12h-1.12zM13 13h1.12v1.12h-1.12zM17 13h1.12v1.12h-1.12zM0 14h2.12v1.12h-2.12zM11 14h2.12v1.12h-2.12zM12 15h1.12v1.12h-1.12zM12 16h1.12v1.12h-1.12zM17 16h1.12v1.12h-1.12zM19 16h2.12v1.12h-2.12zM8 17h1.12v1.12h-1.12zM17 17h1.12v1.12h-1.12zM19 17h2.12v1.12h-2.12zM19 18h2.12v1.12h-2.12z"/>
<path fill="#00000a" d="M2 14h1.12v1.12h-1.12zM1 15h1.12v1.12h-1.12zM7 18h2.12v1.12h-2.12zM12 18h2.12v1.12h-2.12z"/>
</g></g></g>
<clipPath id="cb6"><rect x="601.40" y="232.30" width="87.10" height="86.60"/></clipPath>
<g clip-path="url(#cb6)"><g filter="url(#bl)"><g transform="translate(600.54,232.02) scale(4.305,4.6)">
<path fill="#00bfff" d="M0 .9h1.12v1.22h-1.12zM0 3h1.12v1.12h-1.12zM1 4h1.12v1.12h-1.12zM0 7h1.12v1.12h-1.12zM16 7h1.12v1.12h-1.12zM0 8h2.12v1.12h-2.12zM16 9h1.12v1.12h-1.12zM1 10h1.12v1.12h-1.12zM8 10h1.12v1.12h-1.12zM13 10h1.12v1.12h-1.12zM15 10h1.12v1.12h-1.12zM18 10h1.12v1.12h-1.12zM1 11h1.12v1.12h-1.12zM6 11h1.12v1.12h-1.12zM8 11h1.12v1.12h-1.12zM12 11h1.12v1.12h-1.12zM15 11h1.12v1.12h-1.12zM0 12h1.12v1.12h-1.12zM3 12h1.12v1.12h-1.12zM6 12h1.12v1.12h-1.12zM10 15h1.12v1.12h-1.12zM10 16h1.12v1.12h-1.12z"/>
<path fill="#0080ff" d="M1 .9h1.12v1.22h-1.12zM4 .9h1.12v1.22h-1.12zM1 2h1.12v1.12h-1.12zM1 3h1.12v1.12h-1.12zM2 5h1.12v1.12h-1.12zM13 6h1.12v1.12h-1.12zM16 6h2.12v1.12h-2.12zM1 7h1.12v1.12h-1.12zM16 8h1.12v1.12h-1.12zM19 8h2.12v1.12h-2.12zM1 9h1.12v1.12h-1.12zM19 9h2.12v1.12h-2.12zM5 10h1.12v1.12h-1.12zM1 12h1.12v1.12h-1.12zM7 12h2.12v1.12h-2.12zM3 13h2.12v1.12h-2.12zM8 13h1.12v1.12h-1.12zM1 14h1.12v1.12h-1.12zM8 14h2.12v1.12h-2.12zM14 14h1.12v1.12h-1.12zM7 15h1.12v1.12h-1.12zM6 16h1.12v1.12h-1.12zM9 16h1.12v1.12h-1.12z"/>
<path fill="#0000ff" d="M2 .9h2.12v1.22h-2.12zM0 2h1.12v1.12h-1.12zM2 2h1.12v1.12h-1.12zM18 6h3.12v1.12h-3.12zM19 7h2.12v1.12h-2.12zM4 8h1.12v1.12h-1.12zM18 9h1.12v1.12h-1.12zM2 11h1.12v1.12h-1.12zM13 11h1.12v1.12h-1.12zM12 12h2.12v1.12h-2.12zM5 13h1.12v1.12h-1.12zM16 14h1.12v1.12h-1.12zM12 15h3.12v1.12h-3.12zM16 15h1.12v1.12h-1.12zM18 15h1.12v1.12h-1.12zM12 16h1.12v1.12h-1.12zM17 16h1.12v1.12h-1.12zM7 17h1.12v1.12h-1.12z"/>
<path fill="#0040ff" d="M5 .9h1.12v1.22h-1.12zM18 7h1.12v1.12h-1.12zM18 8h1.12v1.12h-1.12zM2 10h1.12v1.12h-1.12zM4 10h1.12v1.12h-1.12zM19 10h2.12v1.12h-2.12zM3 11h1.12v1.12h-1.12zM0 13h2.12v1.12h-2.12zM3 14h1.12v1.12h-1.12zM10 14h1.12v1.12h-1.12zM3 15h1.12v1.12h-1.12zM9 15h1.12v1.12h-1.12zM11 15h1.12v1.12h-1.12zM11 16h1.12v1.12h-1.12zM14 16h1.12v1.12h-1.12zM9 17h1.12v1.12h-1.12z"/>
<path fill="#00ffff" d="M6 .9h1.12v1.22h-1.12zM3 2h2.12v1.12h-2.12zM11 2h1.12v1.12h-1.12zM3 3h1.12v1.12h-1.12zM8 3h1.12v1.12h-1.12zM0 4h1.12v1.12h-1.12zM2 4h1.12v1.12h-1.12zM5 4h2.12v1.12h-2.12zM0 5h2.12v1.12h-2.12zM13 5h1.12v1.12h-1.12zM16 5h2.12v1.12h-2.12zM19 5h2.12v1.12h-2.12zM0 6h3.12v1.12h-3.12zM11 6h1.12v1.12h-1.12zM2 7h1.12v1.12h-1.12zM2 8h2.12v1.12h-2.12zM15 8h1.12v1.12h-1.12zM17 8h1.12v1.12h-1.12zM0 9h1.12v1.12h-1.12zM4 9h1.12v1.12h-1.12zM0 10h1.12v1.12h-1.12zM12 10h1.12v1.12h-1.12zM0 11h1.12v1.12h-1.12zM5 11h1.12v1.12h-1.12zM9 11h1.12v1.12h-1.12zM4 12h1.12v1.12h-1.12zM9 12h2.12v1.12h-2.12zM9 13h1.12v1.12h-1.12zM4 14h2.12v1.12h-2.12zM11 14h1.12v1.12h-1.12zM4 15h1.12v1.12h-1.12zM8 15h1.12v1.12h-1.12z"/>
<path fill="#40ffbf" d="M7 .9h1.12v1.22h-1.12zM5 2h2.12v1.12h-2.12zM3 4h1.12v1.12h-1.12zM8 4h2.12v1.12h-2.12zM17 4h4.12v1.12h-4.12zM3 5h2.12v1.12h-2.12zM15 5h1.12v1.12h-1.12zM18 5h1.12v1.12h-1.12zM3 6h2.12v1.12h-2.12zM14 6h2.12v1.12h-2.12zM3 7h2.12v1.12h-2.12zM13 7h3.12v1.12h-3.12zM5 8h1.12v1.12h-1.12zM13 8h2.12v1.12h-2.12zM5 9h2.12v1.12h-2.12zM11 9h3.12v1.12h-3.12zM6 10h1.12v1.12h-1.12zM9 10h2.12v1.12h-2.12zM14 10h1.12v1.12h-1.12zM16 10h1.12v1.12h-1.12zM4 11h1.12v1.12h-1.12zM11 11h1.12v1.12h-1.12zM16 11h1.12v1.12h-1.12zM6 13h2.12v1.12h-2.12zM10 13h1.12v1.12h-1.12zM6 14h2.12v1.12h-2.12z"/>
<path fill="#80ff80" d="M7 2h3.12v1.12h-3.12zM12 2h1.12v1.12h-1.12zM4 3h4.12v1.12h-4.12zM9 3h1.12v1.12h-1.12zM11 3h3.12v1.12h-3.12zM4 4h1.12v1.12h-1.12zM7 4h1.12v1.12h-1.12zM10 4h2.12v1.12h-2.12zM14 4h3.12v1.12h-3.12zM5 5h2.12v1.12h-2.12zM8 5h2.12v1.12h-2.12zM11 5h2.12v1.12h-2.12zM5 6h1.12v1.12h-1.12zM7 6h1.12v1.12h-1.12zM12 6h1.12v1.12h-1.12zM5 7h1.12v1.12h-1.12zM12 7h1.12v1.12h-1.12zM6 8h1.12v1.12h-1.12zM11 8h2.12v1.12h-2.12zM2 9h1.12v1.12h-1.12zM8 9h3.12v1.12h-3.12zM5 12h1.12v1.12h-1.12zM6 15h1.12v1.12h-1.12z"/>
<path fill="#bfff40" d="M10 2h1.12v1.12h-1.12zM10 3h1.12v1.12h-1.12zM14 3h1.12v1.12h-1.12zM13 4h1.12v1.12h-1.12zM7 5h1.12v1.12h-1.12zM14 5h1.12v1.12h-1.12zM6 6h1.12v1.12h-1.12zM9 6h1.12v1.12h-1.12zM6 7h1.12v1.12h-1.12zM10 8h1.12v1.12h-1.12zM7 9h1.12v1.12h-1.12z"/>
<path fill="#f0f0f2" d="M2 3h1.12v1.12h-1.12zM14 9h2.12v1.12h-2.12zM17 9h1.12v1.12h-1.12zM11 12h1.12v1.12h-1.12zM0 14h1.12v1.12h-1.12zM0 15h1.12v1.12h-1.12zM2 15h1.12v1.12h-1.12zM4 16h2.12v1.12h-2.12zM13 16h1.12v1.12h-1.12zM4 17h1.12v1.12h-1.12zM8 17h1.12v1.12h-1.12zM10 17h2.12v1.12h-2.12zM13 17h5.12v1.12h-5.12z"/>
<path fill="#ffff00" d="M15 3h1.12v1.12h-1.12zM12 4h1.12v1.12h-1.12zM8 6h1.12v1.12h-1.12zM10 6h1.12v1.12h-1.12zM7 7h1.12v1.12h-1.12zM9 7h2.12v1.12h-2.12zM7 8h1.12v1.12h-1.12zM9 8h1.12v1.12h-1.12zM10 11h1.12v1.12h-1.12zM11 13h1.12v1.12h-1.12z"/>
<path fill="#ffbf00" d="M16 3h1.12v1.12h-1.12zM10 5h1.12v1.12h-1.12zM8 7h1.12v1.12h-1.12zM8 8h1.12v1.12h-1.12zM7 10h1.12v1.12h-1.12zM11 10h1.12v1.12h-1.12z"/>
<path fill="#ff8000" d="M11 7h1.12v1.12h-1.12z"/>
<path fill="#0000c2" d="M17 7h1.12v1.12h-1.12zM3 10h1.12v1.12h-1.12zM2 13h1.12v1.12h-1.12zM12 13h1.12v1.12h-1.12zM2 14h1.12v1.12h-1.12zM12 14h1.12v1.12h-1.12zM5 15h1.12v1.12h-1.12zM7 16h2.12v1.12h-2.12z"/>
<path fill="#000084" d="M3 9h1.12v1.12h-1.12zM1 15h1.12v1.12h-1.12zM18 16h1.12v1.12h-1.12zM12 17h1.12v1.12h-1.12z"/>
<path fill="#dedee0" d="M17 10h1.12v1.12h-1.12zM14 11h1.12v1.12h-1.12zM17 11h4.12v1.12h-4.12zM14 12h7.12v1.12h-7.12zM13 13h8.12v1.12h-8.12zM13 14h1.12v1.12h-1.12zM15 14h1.12v1.12h-1.12zM17 14h4.12v1.12h-4.12zM15 15h1.12v1.12h-1.12zM17 15h1.12v1.12h-1.12zM19 15h2.12v1.12h-2.12zM15 16h2.12v1.12h-2.12zM19 16h2.12v1.12h-2.12zM18 17h3.12v1.12h-3.12z"/>
<path fill="#ff4000" d="M7 11h1.12v1.12h-1.12z"/>
<path fill="#00000a" d="M2 12h1.12v1.12h-1.12z"/>
</g></g></g>
<clipPath id="cb7"><rect x="688.50" y="232.30" width="85.90" height="86.60"/></clipPath>
<g clip-path="url(#cb7)"><g filter="url(#bl)"><g transform="translate(687.14,232.02) scale(4.305,4.6)">
<path fill="#00bfff" d="M0 .9h1.12v1.22h-1.12zM5 .9h3.12v1.22h-3.12zM0 2h1.12v1.12h-1.12zM3 2h1.12v1.12h-1.12zM18 9h1.12v1.12h-1.12zM0 14h1.12v1.12h-1.12zM7 16h1.12v1.12h-1.12z"/>
<path fill="#0080ff" d="M1 .9h1.12v1.22h-1.12zM4 .9h1.12v1.22h-1.12zM1 2h2.12v1.12h-2.12zM3 3h1.12v1.12h-1.12zM8 4h1.12v1.12h-1.12zM18 7h1.12v1.12h-1.12zM18 8h1.12v1.12h-1.12zM16 10h1.12v1.12h-1.12zM4 13h2.12v1.12h-2.12zM4 14h1.12v1.12h-1.12zM0 15h2.12v1.12h-2.12zM4 15h1.12v1.12h-1.12zM10 15h1.12v1.12h-1.12zM4 16h1.12v1.12h-1.12zM8 16h1.12v1.12h-1.12zM12 16h1.12v1.12h-1.12zM15 16h1.12v1.12h-1.12zM10 17h1.12v1.12h-1.12z"/>
<path fill="#0040ff" d="M2 .9h2.12v1.22h-2.12zM4 11h1.12v1.12h-1.12zM16 11h1.12v1.12h-1.12zM1 12h1.12v1.12h-1.12z"/>
<path fill="#00ffff" d="M4 2h1.12v1.12h-1.12zM6 2h7.12v1.12h-7.12zM0 3h3.12v1.12h-3.12zM2 7h1.12v1.12h-1.12zM19 7h2.12v1.12h-2.12zM2 8h1.12v1.12h-1.12zM19 8h2.12v1.12h-2.12zM17 9h1.12v1.12h-1.12zM19 9h2.12v1.12h-2.12zM0 10h1.12v1.12h-1.12zM13 10h1.12v1.12h-1.12zM0 11h1.12v1.12h-1.12zM3 13h1.12v1.12h-1.12zM3 14h1.12v1.12h-1.12zM10 14h1.12v1.12h-1.12zM13 14h1.12v1.12h-1.12zM15 14h1.12v1.12h-1.12zM3 15h1.12v1.12h-1.12zM8 15h2.12v1.12h-2.12zM12 15h1.12v1.12h-1.12zM9 16h2.12v1.12h-2.12z"/>
<path fill="#40ffbf" d="M5 2h1.12v1.12h-1.12zM4 3h2.12v1.12h-2.12zM7 3h2.12v1.12h-2.12zM5 4h1.12v1.12h-1.12zM16 4h2.12v1.12h-2.12zM16 5h5.12v1.12h-5.12zM0 6h3.12v1.12h-3.12zM16 6h5.12v1.12h-5.12zM0 7h2.12v1.12h-2.12zM15 7h3.12v1.12h-3.12zM0 8h2.12v1.12h-2.12zM15 8h3.12v1.12h-3.12zM0 9h1.12v1.12h-1.12zM15 9h2.12v1.12h-2.12zM1 10h1.12v1.12h-1.12zM3 10h2.12v1.12h-2.12zM1 11h1.12v1.12h-1.12zM13 11h1.12v1.12h-1.12zM0 13h2.12v1.12h-2.12zM6 13h1.12v1.12h-1.12zM1 14h2.12v1.12h-2.12zM6 14h1.12v1.12h-1.12zM5 15h3.12v1.12h-3.12zM11 15h1.12v1.12h-1.12z"/>
<path fill="#80ff80" d="M6 3h1.12v1.12h-1.12zM10 3h7.12v1.12h-7.12zM18 4h3.12v1.12h-3.12zM0 5h4.12v1.12h-4.12zM15 5h1.12v1.12h-1.12zM3 6h1.12v1.12h-1.12zM15 6h1.12v1.12h-1.12zM3 7h1.12v1.12h-1.12zM3 8h1.12v1.12h-1.12zM14 8h1.12v1.12h-1.12zM1 9h1.12v1.12h-1.12zM3 9h1.12v1.12h-1.12zM2 10h1.12v1.12h-1.12zM5 10h1.12v1.12h-1.12zM2 11h2.12v1.12h-2.12zM12 11h1.12v1.12h-1.12zM2 12h1.12v1.12h-1.12zM4 12h5.12v1.12h-5.12zM12 12h2.12v1.12h-2.12zM2 13h1.12v1.12h-1.12zM7 13h1.12v1.12h-1.12zM9 13h2.12v1.12h-2.12zM12 13h2.12v1.12h-2.12zM5 14h1.12v1.12h-1.12zM9 14h1.12v1.12h-1.12zM11 14h2.12v1.12h-2.12z"/>
<path fill="#bfff40" d="M9 3h1.12v1.12h-1.12zM1 4h4.12v1.12h-4.12zM9 4h2.12v1.12h-2.12zM14 4h2.12v1.12h-2.12zM10 5h1.12v1.12h-1.12zM14 5h1.12v1.12h-1.12zM14 6h1.12v1.12h-1.12zM14 7h1.12v1.12h-1.12zM4 9h1.12v1.12h-1.12zM6 10h1.12v1.12h-1.12zM5 11h1.12v1.12h-1.12zM0 12h1.12v1.12h-1.12zM3 12h1.12v1.12h-1.12zM9 12h1.12v1.12h-1.12zM11 12h1.12v1.12h-1.12zM18 12h1.12v1.12h-1.12zM11 13h1.12v1.12h-1.12z"/>
<path fill="#ffff00" d="M0 4h1.12v1.12h-1.12zM6 4h2.12v1.12h-2.12zM12 4h1.12v1.12h-1.12zM4 5h1.12v1.12h-1.12zM8 5h1.12v1.12h-1.12zM11 5h2.12v1.12h-2.12zM4 6h1.12v1.12h-1.12zM10 6h1.12v1.12h-1.12zM4 7h1.12v1.12h-1.12zM4 8h1.12v1.12h-1.12zM6 8h2.12v1.12h-2.12zM13 8h1.12v1.12h-1.12zM2 9h1.12v1.12h-1.12zM5 9h1.12v1.12h-1.12zM7 9h2.12v1.12h-2.12zM13 9h1.12v1.12h-1.12zM9 10h1.12v1.12h-1.12zM12 10h1.12v1.12h-1.12zM6 11h2.12v1.12h-2.12zM10 11h1.12v1.12h-1.12zM10 12h1.12v1.12h-1.12zM8 13h1.12v1.12h-1.12zM8 14h1.12v1.12h-1.12z"/>
<path fill="#ffbf00" d="M11 4h1.12v1.12h-1.12zM13 4h1.12v1.12h-1.12zM5 5h3.12v1.12h-3.12zM13 5h1.12v1.12h-1.12zM5 6h1.12v1.12h-1.12zM11 6h1.12v1.12h-1.12zM13 6h1.12v1.12h-1.12zM5 7h1.12v1.12h-1.12zM11 7h3.12v1.12h-3.12zM5 8h1.12v1.12h-1.12zM8 8h5.12v1.12h-5.12zM6 9h1.12v1.12h-1.12zM10 9h2.12v1.12h-2.12zM7 10h1.12v1.12h-1.12zM10 10h2.12v1.12h-2.12zM11 11h1.12v1.12h-1.12z"/>
<path fill="#ff8000" d="M9 5h1.12v1.12h-1.12zM6 6h1.12v1.12h-1.12zM9 6h1.12v1.12h-1.12zM12 6h1.12v1.12h-1.12zM6 7h1.12v1.12h-1.12zM9 7h2.12v1.12h-2.12zM9 9h1.12v1.12h-1.12zM12 9h1.12v1.12h-1.12zM9 11h1.12v1.12h-1.12z"/>
<path fill="#ff4000" d="M7 6h2.12v1.12h-2.12zM7 7h2.12v1.12h-2.12zM8 10h1.12v1.12h-1.12zM8 11h1.12v1.12h-1.12z"/>
<path fill="#f0f0f2" d="M14 9h1.12v1.12h-1.12zM17 11h1.12v1.12h-1.12zM7 14h1.12v1.12h-1.12zM13 15h1.12v1.12h-1.12zM3 16h1.12v1.12h-1.12zM5 16h2.12v1.12h-2.12zM11 16h1.12v1.12h-1.12zM16 16h1.12v1.12h-1.12zM8 17h2.12v1.12h-2.12zM11 17h6.12v1.12h-6.12zM17 18h4.12v1.12h-4.12z"/>
<path fill="#dedee0" d="M14 10h2.12v1.12h-2.12zM17 10h1.12v1.12h-1.12zM14 11h2.12v1.12h-2.12zM14 12h4.12v1.12h-4.12zM19 12h2.12v1.12h-2.12zM14 13h7.12v1.12h-7.12zM14 14h1.12v1.12h-1.12zM16 14h5.12v1.12h-5.12zM14 15h7.12v1.12h-7.12zM17 16h4.12v1.12h-4.12zM17 17h4.12v1.12h-4.12z"/>
<path fill="#0000ff" d="M18 10h3.12v1.12h-3.12zM18 11h1.12v1.12h-1.12zM13 16h2.12v1.12h-2.12zM7 17h1.12v1.12h-1.12z"/>
<path fill="#00000a" d="M19 11h2.12v1.12h-2.12z"/>
<path fill="#0000c2" d="M2 15h1.12v1.12h-1.12z"/>
</g></g></g>
<rect x="119.85" y="265.45" width="4.1" height="4.1" fill="none" stroke="#000" stroke-width="1.9"/>
<rect x="206.75" y="265.45" width="4.1" height="4.1" fill="none" stroke="#000" stroke-width="1.9"/>
<rect x="295.35" y="265.45" width="4.1" height="4.1" fill="none" stroke="#ff0000" stroke-width="1.9"/>
<rect x="382.65" y="265.45" width="4.1" height="4.1" fill="none" stroke="#ff0000" stroke-width="1.9"/>
<rect x="468.85" y="265.45" width="4.1" height="4.1" fill="none" stroke="#ff0000" stroke-width="1.9"/>
<rect x="555.85" y="265.45" width="4.1" height="4.1" fill="none" stroke="#ff0000" stroke-width="1.9"/>
<rect x="643.95" y="265.45" width="4.1" height="4.1" fill="none" stroke="#ff0000" stroke-width="1.9"/>
<rect x="730.55" y="265.45" width="4.1" height="4.1" fill="none" stroke="#000" stroke-width="1.9"/>
<g stroke="#000" stroke-width="1.3" fill="none">
<rect x="78.4" y="232.0" width="696.0" height="86.19999999999999"/>
<line x1="165.1" y1="232.0" x2="165.1" y2="318.2"/>
<line x1="253.3" y1="232.0" x2="253.3" y2="318.2"/>
<line x1="339.3" y1="232.0" x2="339.3" y2="318.2"/>
<line x1="427.2" y1="232.0" x2="427.2" y2="318.2"/>
<line x1="513.9" y1="232.0" x2="513.9" y2="318.2"/>
<line x1="601.4" y1="232.0" x2="601.4" y2="318.2"/>
<line x1="688.5" y1="232.0" x2="688.5" y2="318.2"/>
</g>
<g stroke="#000" stroke-width="0.8">
<line x1="162.9" y1="274.2" x2="167.1" y2="274.2"/>
<line x1="78.4" y1="313.9" x2="80.60000000000001" y2="313.9"/>
<line x1="161.6" y1="313.9" x2="165.1" y2="313.9"/>
<line x1="111.7" y1="232.0" x2="111.7" y2="235.0"/>
<line x1="251.10000000000002" y1="274.2" x2="255.3" y2="274.2"/>
<line x1="165.1" y1="313.9" x2="167.29999999999998" y2="313.9"/>
<line x1="249.8" y1="313.9" x2="253.3" y2="313.9"/>
<line x1="198.39999999999998" y1="232.0" x2="198.39999999999998" y2="235.0"/>
<line x1="337.1" y1="274.2" x2="341.3" y2="274.2"/>
<line x1="253.3" y1="313.9" x2="255.5" y2="313.9"/>
<line x1="335.8" y1="313.9" x2="339.3" y2="313.9"/>
<line x1="286.6" y1="232.0" x2="286.6" y2="235.0"/>
<line x1="425.0" y1="274.2" x2="429.2" y2="274.2"/>
<line x1="339.3" y1="313.9" x2="341.5" y2="313.9"/>
<line x1="423.7" y1="313.9" x2="427.2" y2="313.9"/>
<line x1="372.6" y1="232.0" x2="372.6" y2="235.0"/>
<line x1="511.7" y1="274.2" x2="515.9" y2="274.2"/>
<line x1="427.2" y1="313.9" x2="429.4" y2="313.9"/>
<line x1="510.4" y1="313.9" x2="513.9" y2="313.9"/>
<line x1="460.5" y1="232.0" x2="460.5" y2="235.0"/>
<line x1="599.1999999999999" y1="274.2" x2="603.4" y2="274.2"/>
<line x1="513.9" y1="313.9" x2="516.1" y2="313.9"/>
<line x1="597.9" y1="313.9" x2="601.4" y2="313.9"/>
<line x1="547.1999999999999" y1="232.0" x2="547.1999999999999" y2="235.0"/>
<line x1="686.3" y1="274.2" x2="690.5" y2="274.2"/>
<line x1="601.4" y1="313.9" x2="603.6" y2="313.9"/>
<line x1="685.0" y1="313.9" x2="688.5" y2="313.9"/>
<line x1="634.6999999999999" y1="232.0" x2="634.6999999999999" y2="235.0"/>
<line x1="772.1999999999999" y1="274.2" x2="774.4" y2="274.2"/>
<line x1="688.5" y1="313.9" x2="690.7" y2="313.9"/>
<line x1="770.9" y1="313.9" x2="774.4" y2="313.9"/>
<line x1="721.8" y1="232.0" x2="721.8" y2="235.0"/>
</g>
<text x="2.4" y="8.2" font-size="15.5" class="b" text-anchor="start">a</text>
<text x="0.6" y="32.2" font-size="14" class="b" textLength="37.3" lengthAdjust="spacingAndGlyphs" text-anchor="start">MLat</text>
<text x="50.6" y="34.2" font-size="14.5" textLength="20.6" lengthAdjust="spacingAndGlyphs" text-anchor="start">90°</text>
<text x="48.7" y="72.3" font-size="14.5" textLength="21.6" lengthAdjust="spacingAndGlyphs" text-anchor="start">45°</text>
<text x="54.2" y="114.0" font-size="14.5" textLength="14.2" lengthAdjust="spacingAndGlyphs" text-anchor="start">0°</text>
<text x="111.7" y="14.6" font-size="11.2" class="b" textLength="21.2" lengthAdjust="spacingAndGlyphs" text-anchor="start">100°</text>
<g fill="#fa1212" stroke="none">
<rect x="83.5" y="13.8" width="16.8" height="2.2"/>
<polygon points="78.5,14.9 85.6,11.600000000000001 84.4,14.9 85.6,18.2"/>
<rect x="143.7" y="13.8" width="15.8" height="2.2"/>
<polygon points="164.4,14.9 157.3,11.600000000000001 158.5,14.9 157.3,18.2"/>
</g>
<text x="78.2" y="127.2" font-size="15" textLength="7.2" lengthAdjust="spacingAndGlyphs" text-anchor="start">0</text>
<text x="162.7" y="127.2" font-size="15" textLength="7.2" lengthAdjust="spacingAndGlyphs" text-anchor="start">3</text>
<text x="249.3" y="126.9" font-size="15" textLength="7.2" lengthAdjust="spacingAndGlyphs" text-anchor="start">6</text>
<text x="337.6" y="126.9" font-size="15" textLength="7.2" lengthAdjust="spacingAndGlyphs" text-anchor="start">9</text>
<text x="422.4" y="127.6" font-size="15" textLength="14.2" lengthAdjust="spacingAndGlyphs" text-anchor="start">12</text>
<text x="508.3" y="126.9" font-size="15" textLength="14.0" lengthAdjust="spacingAndGlyphs" text-anchor="start">15</text>
<text x="595.0" y="128.0" font-size="15" textLength="14.2" lengthAdjust="spacingAndGlyphs" text-anchor="start">18</text>
<text x="683.4" y="126.9" font-size="15" textLength="13.8" lengthAdjust="spacingAndGlyphs" text-anchor="start">21</text>
<text x="768.3" y="126.9" font-size="15" textLength="15.2" lengthAdjust="spacingAndGlyphs" text-anchor="start">24</text>
<text x="418.0" y="154.8" font-size="15" class="b" textLength="34.8" lengthAdjust="spacingAndGlyphs" text-anchor="start">MLT</text>
<text x="85.2" y="158.8" font-size="14.6" class="b" textLength="91.0" lengthAdjust="spacingAndGlyphs" text-anchor="start">Intensity dBT</text>
<rect x="80.5" y="166.0" width="173.8" height="11.0" fill="url(#jet)"/>
<rect x="123.45" y="166.0" width="1" height="1.6" fill="#000" opacity="0.7"/>
<rect x="123.45" y="175.4" width="1" height="1.6" fill="#000" opacity="0.7"/>
<rect x="166.9" y="166.0" width="1" height="1.6" fill="#000" opacity="0.7"/>
<rect x="166.9" y="175.4" width="1" height="1.6" fill="#000" opacity="0.7"/>
<rect x="210.35000000000002" y="166.0" width="1" height="1.6" fill="#000" opacity="0.7"/>
<rect x="210.35000000000002" y="175.4" width="1" height="1.6" fill="#000" opacity="0.7"/>
<text x="64.6" y="191.2" font-size="15" textLength="26.8" lengthAdjust="spacingAndGlyphs" text-anchor="start">-290</text>
<text x="105.4" y="192.4" font-size="15" textLength="26.8" lengthAdjust="spacingAndGlyphs" text-anchor="start">-282</text>
<text x="149.8" y="192.2" font-size="15" textLength="27.4" lengthAdjust="spacingAndGlyphs" text-anchor="start">-275</text>
<text x="197.6" y="190.9" font-size="15" textLength="26.8" lengthAdjust="spacingAndGlyphs" text-anchor="start">-267</text>
<text x="241.0" y="190.9" font-size="15" textLength="27.2" lengthAdjust="spacingAndGlyphs" text-anchor="start">-260</text>
<text x="2.4" y="221.89999999999998" font-size="15.5" class="b" text-anchor="start">b</text>
<text x="0.6" y="245.2" font-size="14" class="b" textLength="37.3" lengthAdjust="spacingAndGlyphs" text-anchor="start">MLat</text>
<text x="50.6" y="245.89999999999998" font-size="14.5" textLength="20.6" lengthAdjust="spacingAndGlyphs" text-anchor="start">90°</text>
<text x="48.7" y="281.8" font-size="14.5" textLength="21.6" lengthAdjust="spacingAndGlyphs" text-anchor="start">45°</text>
<text x="54.2" y="323.09999999999997" font-size="14.5" textLength="14.2" lengthAdjust="spacingAndGlyphs" text-anchor="start">0°</text>
<text x="111.7" y="221.79999999999998" font-size="11.2" class="b" textLength="21.2" lengthAdjust="spacingAndGlyphs" text-anchor="start">100°</text>
<g fill="#fa1212" stroke="none">
<rect x="83.5" y="220.9" width="16.8" height="2.2"/>
<polygon points="78.5,222.0 85.6,218.7 84.4,222.0 85.6,225.3"/>
<rect x="143.7" y="220.9" width="15.8" height="2.2"/>
<polygon points="164.4,222.0 157.3,218.7 158.5,222.0 157.3,225.3"/>
</g>
<text x="78.2" y="337.9" font-size="15" textLength="7.2" lengthAdjust="spacingAndGlyphs" text-anchor="start">0</text>
<text x="162.7" y="337.9" font-size="15" textLength="7.2" lengthAdjust="spacingAndGlyphs" text-anchor="start">3</text>
<text x="249.3" y="337.6" font-size="15" textLength="7.2" lengthAdjust="spacingAndGlyphs" text-anchor="start">6</text>
<text x="337.6" y="337.6" font-size="15" textLength="7.2" lengthAdjust="spacingAndGlyphs" text-anchor="start">9</text>
<text x="422.4" y="338.29999999999995" font-size="15" textLength="14.2" lengthAdjust="spacingAndGlyphs" text-anchor="start">12</text>
<text x="508.3" y="337.6" font-size="15" textLength="14.0" lengthAdjust="spacingAndGlyphs" text-anchor="start">15</text>
<text x="595.0" y="338.7" font-size="15" textLength="14.2" lengthAdjust="spacingAndGlyphs" text-anchor="start">18</text>
<text x="683.4" y="337.6" font-size="15" textLength="13.8" lengthAdjust="spacingAndGlyphs" text-anchor="start">21</text>
<text x="768.3" y="337.6" font-size="15" textLength="15.2" lengthAdjust="spacingAndGlyphs" text-anchor="start">24</text>
<text x="418.0" y="365.5" font-size="15" class="b" textLength="34.8" lengthAdjust="spacingAndGlyphs" text-anchor="start">MLT</text>
<text x="85.2" y="369.5" font-size="14.6" class="b" textLength="109.2" lengthAdjust="spacingAndGlyphs" text-anchor="start">Intensity dBV/m</text>
<rect x="80.5" y="374.5" width="173.8" height="11.399999999999977" fill="url(#jet)"/>
<rect x="123.45" y="374.5" width="1" height="1.6" fill="#000" opacity="0.7"/>
<rect x="123.45" y="384.29999999999995" width="1" height="1.6" fill="#000" opacity="0.7"/>
<rect x="166.9" y="374.5" width="1" height="1.6" fill="#000" opacity="0.7"/>
<rect x="166.9" y="384.29999999999995" width="1" height="1.6" fill="#000" opacity="0.7"/>
<rect x="210.35000000000002" y="374.5" width="1" height="1.6" fill="#000" opacity="0.7"/>
<rect x="210.35000000000002" y="384.29999999999995" width="1" height="1.6" fill="#000" opacity="0.7"/>
<text x="64.2" y="401.5" font-size="15" textLength="26.8" lengthAdjust="spacingAndGlyphs" text-anchor="start">-150</text>
<text x="104.9" y="401.5" font-size="15" textLength="26.8" lengthAdjust="spacingAndGlyphs" text-anchor="start">-140</text>
<text x="149.6" y="401.5" font-size="15" textLength="26.8" lengthAdjust="spacingAndGlyphs" text-anchor="start">-130</text>
<text x="197.5" y="400.1" font-size="15" textLength="26.8" lengthAdjust="spacingAndGlyphs" text-anchor="start">-120</text>
<text x="242.0" y="400.1" font-size="15" textLength="26.4" lengthAdjust="spacingAndGlyphs" text-anchor="start">-110</text>
</svg></body></html>
